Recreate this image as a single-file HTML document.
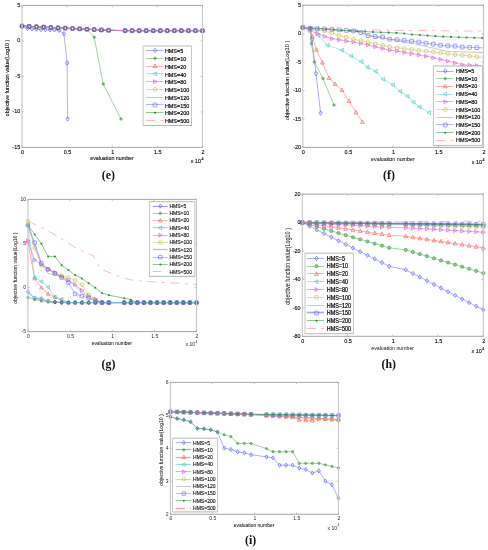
<!DOCTYPE html>
<html><head><meta charset="utf-8"><style>html,body{margin:0;padding:0;background:#fff;width:488px;height:550px;overflow:hidden}svg{display:block}</style></head>
<body>
<svg width="488" height="550" viewBox="0 0 488 550" font-family="Liberation Sans, Arial, sans-serif">
<rect width="488" height="550" fill="#fff"/>
<clipPath id="ce"><rect x="19" y="2.45" width="186.5" height="147.95"/></clipPath>
<g clip-path="url(#ce)">
<path d="M22 26.74L27.41 28.52L31.93 28.87L36.44 29.23L40.95 29.44L45.47 29.58L49.98 29.79L54.49 29.94L59 30.29L63.97 33.84L67.12 62.94L67.58 119.01" fill="none" stroke="#7878ff" stroke-width="0.6"/>
<path d="M22 24.56L23.61 26.74L22 28.93L20.39 26.74Z" fill="none" stroke="#4848ff" stroke-width="0.6"/>
<path d="M27.41 26.33L29.03 28.52L27.41 30.7L25.8 28.52Z" fill="none" stroke="#4848ff" stroke-width="0.6"/>
<path d="M31.93 26.69L33.54 28.87L31.93 31.06L30.31 28.87Z" fill="none" stroke="#4848ff" stroke-width="0.6"/>
<path d="M36.44 27.04L38.05 29.23L36.44 31.41L34.82 29.23Z" fill="none" stroke="#4848ff" stroke-width="0.6"/>
<path d="M40.95 27.25L42.57 29.44L40.95 31.62L39.34 29.44Z" fill="none" stroke="#4848ff" stroke-width="0.6"/>
<path d="M45.47 27.4L47.08 29.58L45.47 31.77L43.85 29.58Z" fill="none" stroke="#4848ff" stroke-width="0.6"/>
<path d="M49.98 27.61L51.59 29.79L49.98 31.98L48.36 29.79Z" fill="none" stroke="#4848ff" stroke-width="0.6"/>
<path d="M54.49 27.75L56.11 29.94L54.49 32.12L52.88 29.94Z" fill="none" stroke="#4848ff" stroke-width="0.6"/>
<path d="M59 28.11L60.62 30.29L59 32.48L57.39 30.29Z" fill="none" stroke="#4848ff" stroke-width="0.6"/>
<path d="M63.97 31.65L65.58 33.84L63.97 36.02L62.35 33.84Z" fill="none" stroke="#4848ff" stroke-width="0.6"/>
<path d="M67.12 60.75L68.74 62.94L67.12 65.12L65.51 62.94Z" fill="none" stroke="#4848ff" stroke-width="0.6"/>
<path d="M67.58 116.83L69.19 119.01L67.58 121.2L65.96 119.01Z" fill="none" stroke="#4848ff" stroke-width="0.6"/>
<path d="M22 26.03L29.22 26.39L36.44 26.74L43.66 27.1L50.88 27.45L58.1 27.81L65.32 28.16L72.54 28.52L79.76 28.87L86.98 29.23L94.2 37.25L103.23 83.95L121 119.01" fill="none" stroke="#6ab46a" stroke-width="0.6"/>
<circle cx="22" cy="26.03" r="1.23" fill="#3c963c" fill-opacity="0.5" stroke="#3c963c" stroke-width="0.55"/>
<circle cx="29.22" cy="26.39" r="1.23" fill="#3c963c" fill-opacity="0.5" stroke="#3c963c" stroke-width="0.55"/>
<circle cx="36.44" cy="26.74" r="1.23" fill="#3c963c" fill-opacity="0.5" stroke="#3c963c" stroke-width="0.55"/>
<circle cx="43.66" cy="27.1" r="1.23" fill="#3c963c" fill-opacity="0.5" stroke="#3c963c" stroke-width="0.55"/>
<circle cx="50.88" cy="27.45" r="1.23" fill="#3c963c" fill-opacity="0.5" stroke="#3c963c" stroke-width="0.55"/>
<circle cx="58.1" cy="27.81" r="1.23" fill="#3c963c" fill-opacity="0.5" stroke="#3c963c" stroke-width="0.55"/>
<circle cx="65.32" cy="28.16" r="1.23" fill="#3c963c" fill-opacity="0.5" stroke="#3c963c" stroke-width="0.55"/>
<circle cx="72.54" cy="28.52" r="1.23" fill="#3c963c" fill-opacity="0.5" stroke="#3c963c" stroke-width="0.55"/>
<circle cx="79.76" cy="28.87" r="1.23" fill="#3c963c" fill-opacity="0.5" stroke="#3c963c" stroke-width="0.55"/>
<circle cx="86.98" cy="29.23" r="1.23" fill="#3c963c" fill-opacity="0.5" stroke="#3c963c" stroke-width="0.55"/>
<circle cx="94.2" cy="37.25" r="1.23" fill="#3c963c" fill-opacity="0.5" stroke="#3c963c" stroke-width="0.55"/>
<circle cx="103.23" cy="83.95" r="1.23" fill="#3c963c" fill-opacity="0.5" stroke="#3c963c" stroke-width="0.55"/>
<circle cx="121" cy="119.01" r="1.23" fill="#3c963c" fill-opacity="0.5" stroke="#3c963c" stroke-width="0.55"/>
<path d="M22 26.03L29.22 26.39L36.44 26.74L43.66 27.1L50.88 27.45L58.1 27.81L65.32 28.16L72.54 28.52L79.76 28.87L86.98 29.23L94.2 29.58L101.42 29.94L108.64 30.29L125.16 30.65L132.19 30.65L139.22 30.65L146.25 30.65L153.28 30.65L160.31 30.65L167.34 30.65L174.37 30.65L181.41 30.65L188.44 30.65L195.47 30.65L202.5 30.65" fill="none" stroke="#ff7a7a" stroke-width="0.6"/>
<path d="M22 23.94L23.9 27.46L20.1 27.46Z" fill="none" stroke="#ff4a4a" stroke-width="0.6"/>
<path d="M29.22 24.3L31.12 27.81L27.32 27.81Z" fill="none" stroke="#ff4a4a" stroke-width="0.6"/>
<path d="M36.44 24.65L38.34 28.17L34.54 28.17Z" fill="none" stroke="#ff4a4a" stroke-width="0.6"/>
<path d="M43.66 25.01L45.56 28.52L41.76 28.52Z" fill="none" stroke="#ff4a4a" stroke-width="0.6"/>
<path d="M50.88 25.36L52.78 28.88L48.98 28.88Z" fill="none" stroke="#ff4a4a" stroke-width="0.6"/>
<path d="M58.1 25.72L60 29.23L56.2 29.23Z" fill="none" stroke="#ff4a4a" stroke-width="0.6"/>
<path d="M65.32 26.07L67.22 29.59L63.42 29.59Z" fill="none" stroke="#ff4a4a" stroke-width="0.6"/>
<path d="M72.54 26.43L74.44 29.94L70.64 29.94Z" fill="none" stroke="#ff4a4a" stroke-width="0.6"/>
<path d="M79.76 26.78L81.66 30.3L77.86 30.3Z" fill="none" stroke="#ff4a4a" stroke-width="0.6"/>
<path d="M86.98 27.14L88.88 30.65L85.08 30.65Z" fill="none" stroke="#ff4a4a" stroke-width="0.6"/>
<path d="M94.2 27.49L96.1 31.01L92.3 31.01Z" fill="none" stroke="#ff4a4a" stroke-width="0.6"/>
<path d="M101.42 27.85L103.32 31.36L99.52 31.36Z" fill="none" stroke="#ff4a4a" stroke-width="0.6"/>
<path d="M108.64 28.2L110.54 31.72L106.74 31.72Z" fill="none" stroke="#ff4a4a" stroke-width="0.6"/>
<path d="M125.16 28.56L127.06 32.07L123.26 32.07Z" fill="none" stroke="#ff4a4a" stroke-width="0.6"/>
<path d="M132.19 28.56L134.09 32.07L130.29 32.07Z" fill="none" stroke="#ff4a4a" stroke-width="0.6"/>
<path d="M139.22 28.56L141.12 32.07L137.32 32.07Z" fill="none" stroke="#ff4a4a" stroke-width="0.6"/>
<path d="M146.25 28.56L148.15 32.07L144.35 32.07Z" fill="none" stroke="#ff4a4a" stroke-width="0.6"/>
<path d="M153.28 28.56L155.18 32.07L151.38 32.07Z" fill="none" stroke="#ff4a4a" stroke-width="0.6"/>
<path d="M160.31 28.56L162.21 32.07L158.41 32.07Z" fill="none" stroke="#ff4a4a" stroke-width="0.6"/>
<path d="M167.34 28.56L169.24 32.07L165.44 32.07Z" fill="none" stroke="#ff4a4a" stroke-width="0.6"/>
<path d="M174.37 28.56L176.27 32.07L172.47 32.07Z" fill="none" stroke="#ff4a4a" stroke-width="0.6"/>
<path d="M181.41 28.56L183.31 32.07L179.51 32.07Z" fill="none" stroke="#ff4a4a" stroke-width="0.6"/>
<path d="M188.44 28.56L190.34 32.07L186.54 32.07Z" fill="none" stroke="#ff4a4a" stroke-width="0.6"/>
<path d="M195.47 28.56L197.37 32.07L193.57 32.07Z" fill="none" stroke="#ff4a4a" stroke-width="0.6"/>
<path d="M202.5 28.56L204.4 32.07L200.6 32.07Z" fill="none" stroke="#ff4a4a" stroke-width="0.6"/>
<path d="M22 26.03L29.22 26.39L36.44 26.74L43.66 27.1L50.88 27.45L58.1 27.81L65.32 28.16L72.54 28.52L79.76 28.87L86.98 29.23L94.2 29.58L101.42 29.94L108.64 30.29L125.16 30.65L132.19 30.65L139.22 30.65L146.25 30.65L153.28 30.65L160.31 30.65L167.34 30.65L174.37 30.65L181.41 30.65L188.44 30.65L195.47 30.65L202.5 30.65" fill="none" stroke="#6ad8d0" stroke-width="0.6"/>
<path d="M19.91 26.03L23.43 24.13L23.43 27.93Z" fill="none" stroke="#36c4c0" stroke-width="0.6"/>
<path d="M27.13 26.39L30.64 24.49L30.64 28.29Z" fill="none" stroke="#36c4c0" stroke-width="0.6"/>
<path d="M34.35 26.74L37.86 24.84L37.86 28.64Z" fill="none" stroke="#36c4c0" stroke-width="0.6"/>
<path d="M41.57 27.1L45.08 25.2L45.08 29Z" fill="none" stroke="#36c4c0" stroke-width="0.6"/>
<path d="M48.79 27.45L52.3 25.55L52.3 29.35Z" fill="none" stroke="#36c4c0" stroke-width="0.6"/>
<path d="M56.01 27.81L59.52 25.91L59.52 29.71Z" fill="none" stroke="#36c4c0" stroke-width="0.6"/>
<path d="M63.23 28.16L66.74 26.26L66.74 30.06Z" fill="none" stroke="#36c4c0" stroke-width="0.6"/>
<path d="M70.45 28.52L73.97 26.62L73.97 30.42Z" fill="none" stroke="#36c4c0" stroke-width="0.6"/>
<path d="M77.67 28.87L81.18 26.97L81.18 30.77Z" fill="none" stroke="#36c4c0" stroke-width="0.6"/>
<path d="M84.89 29.23L88.41 27.33L88.41 31.13Z" fill="none" stroke="#36c4c0" stroke-width="0.6"/>
<path d="M92.11 29.58L95.62 27.68L95.62 31.48Z" fill="none" stroke="#36c4c0" stroke-width="0.6"/>
<path d="M99.33 29.94L102.84 28.04L102.84 31.84Z" fill="none" stroke="#36c4c0" stroke-width="0.6"/>
<path d="M106.55 30.29L110.06 28.39L110.06 32.19Z" fill="none" stroke="#36c4c0" stroke-width="0.6"/>
<path d="M123.07 30.65L126.58 28.75L126.58 32.55Z" fill="none" stroke="#36c4c0" stroke-width="0.6"/>
<path d="M130.1 30.65L133.61 28.75L133.61 32.55Z" fill="none" stroke="#36c4c0" stroke-width="0.6"/>
<path d="M137.13 30.65L140.64 28.75L140.64 32.55Z" fill="none" stroke="#36c4c0" stroke-width="0.6"/>
<path d="M144.16 30.65L147.67 28.75L147.67 32.55Z" fill="none" stroke="#36c4c0" stroke-width="0.6"/>
<path d="M151.19 30.65L154.71 28.75L154.71 32.55Z" fill="none" stroke="#36c4c0" stroke-width="0.6"/>
<path d="M158.22 30.65L161.74 28.75L161.74 32.55Z" fill="none" stroke="#36c4c0" stroke-width="0.6"/>
<path d="M165.25 30.65L168.77 28.75L168.77 32.55Z" fill="none" stroke="#36c4c0" stroke-width="0.6"/>
<path d="M172.28 30.65L175.8 28.75L175.8 32.55Z" fill="none" stroke="#36c4c0" stroke-width="0.6"/>
<path d="M179.32 30.65L182.83 28.75L182.83 32.55Z" fill="none" stroke="#36c4c0" stroke-width="0.6"/>
<path d="M186.35 30.65L189.86 28.75L189.86 32.55Z" fill="none" stroke="#36c4c0" stroke-width="0.6"/>
<path d="M193.38 30.65L196.89 28.75L196.89 32.55Z" fill="none" stroke="#36c4c0" stroke-width="0.6"/>
<path d="M200.41 30.65L203.93 28.75L203.93 32.55Z" fill="none" stroke="#36c4c0" stroke-width="0.6"/>
<path d="M22 26.03L29.22 26.39L36.44 26.74L43.66 27.1L50.88 27.45L58.1 27.81L65.32 28.16L72.54 28.52L79.76 28.87L86.98 29.23L94.2 29.58L101.42 29.94L108.64 30.29L125.16 30.65L132.19 30.65L139.22 30.65L146.25 30.65L153.28 30.65L160.31 30.65L167.34 30.65L174.37 30.65L181.41 30.65L188.44 30.65L195.47 30.65L202.5 30.65" fill="none" stroke="#dc6edc" stroke-width="0.6"/>
<path d="M24.09 26.03L20.57 24.13L20.57 27.93Z" fill="none" stroke="#d548d5" stroke-width="0.6"/>
<path d="M31.31 26.39L27.79 24.49L27.79 28.29Z" fill="none" stroke="#d548d5" stroke-width="0.6"/>
<path d="M38.53 26.74L35.02 24.84L35.02 28.64Z" fill="none" stroke="#d548d5" stroke-width="0.6"/>
<path d="M45.75 27.1L42.23 25.2L42.23 29Z" fill="none" stroke="#d548d5" stroke-width="0.6"/>
<path d="M52.97 27.45L49.45 25.55L49.45 29.35Z" fill="none" stroke="#d548d5" stroke-width="0.6"/>
<path d="M60.19 27.81L56.68 25.91L56.68 29.71Z" fill="none" stroke="#d548d5" stroke-width="0.6"/>
<path d="M67.41 28.16L63.89 26.26L63.89 30.06Z" fill="none" stroke="#d548d5" stroke-width="0.6"/>
<path d="M74.63 28.52L71.12 26.62L71.12 30.42Z" fill="none" stroke="#d548d5" stroke-width="0.6"/>
<path d="M81.85 28.87L78.33 26.97L78.33 30.77Z" fill="none" stroke="#d548d5" stroke-width="0.6"/>
<path d="M89.07 29.23L85.56 27.33L85.56 31.13Z" fill="none" stroke="#d548d5" stroke-width="0.6"/>
<path d="M96.29 29.58L92.78 27.68L92.78 31.48Z" fill="none" stroke="#d548d5" stroke-width="0.6"/>
<path d="M103.51 29.94L100 28.04L100 31.84Z" fill="none" stroke="#d548d5" stroke-width="0.6"/>
<path d="M110.73 30.29L107.22 28.39L107.22 32.19Z" fill="none" stroke="#d548d5" stroke-width="0.6"/>
<path d="M127.25 30.65L123.73 28.75L123.73 32.55Z" fill="none" stroke="#d548d5" stroke-width="0.6"/>
<path d="M134.28 30.65L130.76 28.75L130.76 32.55Z" fill="none" stroke="#d548d5" stroke-width="0.6"/>
<path d="M141.31 30.65L137.79 28.75L137.79 32.55Z" fill="none" stroke="#d548d5" stroke-width="0.6"/>
<path d="M148.34 30.65L144.82 28.75L144.82 32.55Z" fill="none" stroke="#d548d5" stroke-width="0.6"/>
<path d="M155.37 30.65L151.86 28.75L151.86 32.55Z" fill="none" stroke="#d548d5" stroke-width="0.6"/>
<path d="M162.4 30.65L158.89 28.75L158.89 32.55Z" fill="none" stroke="#d548d5" stroke-width="0.6"/>
<path d="M169.43 30.65L165.92 28.75L165.92 32.55Z" fill="none" stroke="#d548d5" stroke-width="0.6"/>
<path d="M176.46 30.65L172.95 28.75L172.95 32.55Z" fill="none" stroke="#d548d5" stroke-width="0.6"/>
<path d="M183.5 30.65L179.98 28.75L179.98 32.55Z" fill="none" stroke="#d548d5" stroke-width="0.6"/>
<path d="M190.53 30.65L187.01 28.75L187.01 32.55Z" fill="none" stroke="#d548d5" stroke-width="0.6"/>
<path d="M197.56 30.65L194.04 28.75L194.04 32.55Z" fill="none" stroke="#d548d5" stroke-width="0.6"/>
<path d="M204.59 30.65L201.07 28.75L201.07 32.55Z" fill="none" stroke="#d548d5" stroke-width="0.6"/>
<path d="M22 26.03L29.22 26.39L36.44 26.74L43.66 27.1L50.88 27.45L58.1 27.81L65.32 28.16L72.54 28.52L79.76 28.87L86.98 29.23L94.2 29.58L101.42 29.94L108.64 30.29L125.16 30.65L132.19 30.65L139.22 30.65L146.25 30.65L153.28 30.65L160.31 30.65L167.34 30.65L174.37 30.65L181.41 30.65L188.44 30.65L195.47 30.65L202.5 30.65" fill="none" stroke="#cdcd5a" stroke-width="0.6"/>
<circle cx="22" cy="26.03" r="1.9" fill="none" stroke="#bcbc3a" stroke-width="0.6"/>
<circle cx="29.22" cy="26.39" r="1.9" fill="none" stroke="#bcbc3a" stroke-width="0.6"/>
<circle cx="36.44" cy="26.74" r="1.9" fill="none" stroke="#bcbc3a" stroke-width="0.6"/>
<circle cx="43.66" cy="27.1" r="1.9" fill="none" stroke="#bcbc3a" stroke-width="0.6"/>
<circle cx="50.88" cy="27.45" r="1.9" fill="none" stroke="#bcbc3a" stroke-width="0.6"/>
<circle cx="58.1" cy="27.81" r="1.9" fill="none" stroke="#bcbc3a" stroke-width="0.6"/>
<circle cx="65.32" cy="28.16" r="1.9" fill="none" stroke="#bcbc3a" stroke-width="0.6"/>
<circle cx="72.54" cy="28.52" r="1.9" fill="none" stroke="#bcbc3a" stroke-width="0.6"/>
<circle cx="79.76" cy="28.87" r="1.9" fill="none" stroke="#bcbc3a" stroke-width="0.6"/>
<circle cx="86.98" cy="29.23" r="1.9" fill="none" stroke="#bcbc3a" stroke-width="0.6"/>
<circle cx="94.2" cy="29.58" r="1.9" fill="none" stroke="#bcbc3a" stroke-width="0.6"/>
<circle cx="101.42" cy="29.94" r="1.9" fill="none" stroke="#bcbc3a" stroke-width="0.6"/>
<circle cx="108.64" cy="30.29" r="1.9" fill="none" stroke="#bcbc3a" stroke-width="0.6"/>
<circle cx="125.16" cy="30.65" r="1.9" fill="none" stroke="#bcbc3a" stroke-width="0.6"/>
<circle cx="132.19" cy="30.65" r="1.9" fill="none" stroke="#bcbc3a" stroke-width="0.6"/>
<circle cx="139.22" cy="30.65" r="1.9" fill="none" stroke="#bcbc3a" stroke-width="0.6"/>
<circle cx="146.25" cy="30.65" r="1.9" fill="none" stroke="#bcbc3a" stroke-width="0.6"/>
<circle cx="153.28" cy="30.65" r="1.9" fill="none" stroke="#bcbc3a" stroke-width="0.6"/>
<circle cx="160.31" cy="30.65" r="1.9" fill="none" stroke="#bcbc3a" stroke-width="0.6"/>
<circle cx="167.34" cy="30.65" r="1.9" fill="none" stroke="#bcbc3a" stroke-width="0.6"/>
<circle cx="174.37" cy="30.65" r="1.9" fill="none" stroke="#bcbc3a" stroke-width="0.6"/>
<circle cx="181.41" cy="30.65" r="1.9" fill="none" stroke="#bcbc3a" stroke-width="0.6"/>
<circle cx="188.44" cy="30.65" r="1.9" fill="none" stroke="#bcbc3a" stroke-width="0.6"/>
<circle cx="195.47" cy="30.65" r="1.9" fill="none" stroke="#bcbc3a" stroke-width="0.6"/>
<circle cx="202.5" cy="30.65" r="1.9" fill="none" stroke="#bcbc3a" stroke-width="0.6"/>
<path d="M22 26.03L29.22 26.39L36.44 26.74L43.66 27.1L50.88 27.45L58.1 27.81L65.32 28.16L72.54 28.52L79.76 28.87L86.98 29.23L94.2 29.58L101.42 29.94L108.64 30.29L125.16 30.65L132.19 30.65L139.22 30.65L146.25 30.65L153.28 30.65L160.31 30.65L167.34 30.65L174.37 30.65L181.41 30.65L188.44 30.65L195.47 30.65L202.5 30.65" fill="none" stroke="#a8a8a8" stroke-width="0.6"/>
<path d="M22 26.03L29.22 26.39L36.44 26.74L43.66 27.1L50.88 27.45L58.1 27.81L65.32 28.16L72.54 28.52L79.76 28.87L86.98 29.23L94.2 29.58L101.42 29.94L108.64 30.29L125.16 30.65L132.19 30.65L139.22 30.65L146.25 30.65L153.28 30.65L160.31 30.65L167.34 30.65L174.37 30.65L181.41 30.65L188.44 30.65L195.47 30.65L202.5 30.65" fill="none" stroke="#8484ff" stroke-width="0.6"/>
<rect x="20.1" y="24.13" width="3.8" height="3.8" rx="0.6" fill="none" stroke="#6060ff" stroke-width="0.6"/>
<rect x="27.32" y="24.49" width="3.8" height="3.8" rx="0.6" fill="none" stroke="#6060ff" stroke-width="0.6"/>
<rect x="34.54" y="24.84" width="3.8" height="3.8" rx="0.6" fill="none" stroke="#6060ff" stroke-width="0.6"/>
<rect x="41.76" y="25.2" width="3.8" height="3.8" rx="0.6" fill="none" stroke="#6060ff" stroke-width="0.6"/>
<rect x="48.98" y="25.55" width="3.8" height="3.8" rx="0.6" fill="none" stroke="#6060ff" stroke-width="0.6"/>
<rect x="56.2" y="25.91" width="3.8" height="3.8" rx="0.6" fill="none" stroke="#6060ff" stroke-width="0.6"/>
<rect x="63.42" y="26.26" width="3.8" height="3.8" rx="0.6" fill="none" stroke="#6060ff" stroke-width="0.6"/>
<rect x="70.64" y="26.62" width="3.8" height="3.8" rx="0.6" fill="none" stroke="#6060ff" stroke-width="0.6"/>
<rect x="77.86" y="26.97" width="3.8" height="3.8" rx="0.6" fill="none" stroke="#6060ff" stroke-width="0.6"/>
<rect x="85.08" y="27.33" width="3.8" height="3.8" rx="0.6" fill="none" stroke="#6060ff" stroke-width="0.6"/>
<rect x="92.3" y="27.68" width="3.8" height="3.8" rx="0.6" fill="none" stroke="#6060ff" stroke-width="0.6"/>
<rect x="99.52" y="28.04" width="3.8" height="3.8" rx="0.6" fill="none" stroke="#6060ff" stroke-width="0.6"/>
<rect x="106.74" y="28.39" width="3.8" height="3.8" rx="0.6" fill="none" stroke="#6060ff" stroke-width="0.6"/>
<rect x="123.26" y="28.75" width="3.8" height="3.8" rx="0.6" fill="none" stroke="#6060ff" stroke-width="0.6"/>
<rect x="130.29" y="28.75" width="3.8" height="3.8" rx="0.6" fill="none" stroke="#6060ff" stroke-width="0.6"/>
<rect x="137.32" y="28.75" width="3.8" height="3.8" rx="0.6" fill="none" stroke="#6060ff" stroke-width="0.6"/>
<rect x="144.35" y="28.75" width="3.8" height="3.8" rx="0.6" fill="none" stroke="#6060ff" stroke-width="0.6"/>
<rect x="151.38" y="28.75" width="3.8" height="3.8" rx="0.6" fill="none" stroke="#6060ff" stroke-width="0.6"/>
<rect x="158.41" y="28.75" width="3.8" height="3.8" rx="0.6" fill="none" stroke="#6060ff" stroke-width="0.6"/>
<rect x="165.44" y="28.75" width="3.8" height="3.8" rx="0.6" fill="none" stroke="#6060ff" stroke-width="0.6"/>
<rect x="172.47" y="28.75" width="3.8" height="3.8" rx="0.6" fill="none" stroke="#6060ff" stroke-width="0.6"/>
<rect x="179.51" y="28.75" width="3.8" height="3.8" rx="0.6" fill="none" stroke="#6060ff" stroke-width="0.6"/>
<rect x="186.54" y="28.75" width="3.8" height="3.8" rx="0.6" fill="none" stroke="#6060ff" stroke-width="0.6"/>
<rect x="193.57" y="28.75" width="3.8" height="3.8" rx="0.6" fill="none" stroke="#6060ff" stroke-width="0.6"/>
<rect x="200.6" y="28.75" width="3.8" height="3.8" rx="0.6" fill="none" stroke="#6060ff" stroke-width="0.6"/>
<path d="M22 26.03L29.22 26.39L36.44 26.74L43.66 27.1L50.88 27.45L58.1 27.81L65.32 28.16L72.54 28.52L79.76 28.87L86.98 29.23L94.2 29.58L101.42 29.94L108.64 30.29L125.16 30.65L132.19 30.65L139.22 30.65L146.25 30.65L153.28 30.65L160.31 30.65L167.34 30.65L174.37 30.65L181.41 30.65L188.44 30.65L195.47 30.65L202.5 30.65" fill="none" stroke="#4aa04a" stroke-width="0.6"/>
<circle cx="22" cy="26.03" r="1.05" fill="#2a8a2a"/>
<circle cx="29.22" cy="26.39" r="1.05" fill="#2a8a2a"/>
<circle cx="36.44" cy="26.74" r="1.05" fill="#2a8a2a"/>
<circle cx="43.66" cy="27.1" r="1.05" fill="#2a8a2a"/>
<circle cx="50.88" cy="27.45" r="1.05" fill="#2a8a2a"/>
<circle cx="58.1" cy="27.81" r="1.05" fill="#2a8a2a"/>
<circle cx="65.32" cy="28.16" r="1.05" fill="#2a8a2a"/>
<circle cx="72.54" cy="28.52" r="1.05" fill="#2a8a2a"/>
<circle cx="79.76" cy="28.87" r="1.05" fill="#2a8a2a"/>
<circle cx="86.98" cy="29.23" r="1.05" fill="#2a8a2a"/>
<circle cx="94.2" cy="29.58" r="1.05" fill="#2a8a2a"/>
<circle cx="101.42" cy="29.94" r="1.05" fill="#2a8a2a"/>
<circle cx="108.64" cy="30.29" r="1.05" fill="#2a8a2a"/>
<circle cx="125.16" cy="30.65" r="1.05" fill="#2a8a2a"/>
<circle cx="132.19" cy="30.65" r="1.05" fill="#2a8a2a"/>
<circle cx="139.22" cy="30.65" r="1.05" fill="#2a8a2a"/>
<circle cx="146.25" cy="30.65" r="1.05" fill="#2a8a2a"/>
<circle cx="153.28" cy="30.65" r="1.05" fill="#2a8a2a"/>
<circle cx="160.31" cy="30.65" r="1.05" fill="#2a8a2a"/>
<circle cx="167.34" cy="30.65" r="1.05" fill="#2a8a2a"/>
<circle cx="174.37" cy="30.65" r="1.05" fill="#2a8a2a"/>
<circle cx="181.41" cy="30.65" r="1.05" fill="#2a8a2a"/>
<circle cx="188.44" cy="30.65" r="1.05" fill="#2a8a2a"/>
<circle cx="195.47" cy="30.65" r="1.05" fill="#2a8a2a"/>
<circle cx="202.5" cy="30.65" r="1.05" fill="#2a8a2a"/>
<path d="M22 26.03L29.22 26.39L36.44 26.74L43.66 27.1L50.88 27.45L58.1 27.81L65.32 28.16L72.54 28.52L79.76 28.87L86.98 29.23L94.2 29.58L101.42 29.94L108.64 30.29L125.16 30.65L132.19 30.65L139.22 30.65L146.25 30.65L153.28 30.65L160.31 30.65L167.34 30.65L174.37 30.65L181.41 30.65L188.44 30.65L195.47 30.65L202.5 30.65" fill="none" stroke="#ff8a8a" stroke-width="0.6" stroke-dasharray="9,5.5,3,5.5"/>
<path d="M22 26.03L29.22 26.39L36.44 26.74L43.66 27.1L50.88 27.45L58.1 27.81L65.32 28.16L72.54 28.52L79.76 28.87L86.98 29.23L94.2 29.58L101.42 29.94L108.64 30.29L125.16 30.65L132.19 30.65L139.22 30.65L146.25 30.65L153.28 30.65L160.31 30.65L167.34 30.65L174.37 30.65L181.41 30.65L188.44 30.65L195.47 30.65L202.5 30.65" fill="none" stroke="#c47ad8" stroke-width="0.6"/>
<circle cx="22" cy="26.03" r="1.45" fill="#f3eef6" stroke="#5e3e8e" stroke-width="1"/>
<circle cx="29.22" cy="26.39" r="1.45" fill="#f3eef6" stroke="#5e3e8e" stroke-width="1"/>
<circle cx="36.44" cy="26.74" r="1.45" fill="#f3eef6" stroke="#5e3e8e" stroke-width="1"/>
<circle cx="43.66" cy="27.1" r="1.45" fill="#f3eef6" stroke="#5e3e8e" stroke-width="1"/>
<circle cx="50.88" cy="27.45" r="1.45" fill="#f3eef6" stroke="#5e3e8e" stroke-width="1"/>
<circle cx="58.1" cy="27.81" r="1.45" fill="#f3eef6" stroke="#5e3e8e" stroke-width="1"/>
<circle cx="65.32" cy="28.16" r="1.45" fill="#f3eef6" stroke="#5e3e8e" stroke-width="1"/>
<circle cx="72.54" cy="28.52" r="1.45" fill="#f3eef6" stroke="#5e3e8e" stroke-width="1"/>
<circle cx="79.76" cy="28.87" r="1.45" fill="#f3eef6" stroke="#5e3e8e" stroke-width="1"/>
<circle cx="86.98" cy="29.23" r="1.45" fill="#f3eef6" stroke="#5e3e8e" stroke-width="1"/>
<circle cx="94.2" cy="29.58" r="1.45" fill="#f3eef6" stroke="#5e3e8e" stroke-width="1"/>
<circle cx="101.42" cy="29.94" r="1.45" fill="#f3eef6" stroke="#5e3e8e" stroke-width="1"/>
<circle cx="108.64" cy="30.29" r="1.45" fill="#f3eef6" stroke="#5e3e8e" stroke-width="1"/>
<circle cx="125.16" cy="30.65" r="1.45" fill="#f3eef6" stroke="#5e3e8e" stroke-width="1"/>
<circle cx="132.19" cy="30.65" r="1.45" fill="#f3eef6" stroke="#5e3e8e" stroke-width="1"/>
<circle cx="139.22" cy="30.65" r="1.45" fill="#f3eef6" stroke="#5e3e8e" stroke-width="1"/>
<circle cx="146.25" cy="30.65" r="1.45" fill="#f3eef6" stroke="#5e3e8e" stroke-width="1"/>
<circle cx="153.28" cy="30.65" r="1.45" fill="#f3eef6" stroke="#5e3e8e" stroke-width="1"/>
<circle cx="160.31" cy="30.65" r="1.45" fill="#f3eef6" stroke="#5e3e8e" stroke-width="1"/>
<circle cx="167.34" cy="30.65" r="1.45" fill="#f3eef6" stroke="#5e3e8e" stroke-width="1"/>
<circle cx="174.37" cy="30.65" r="1.45" fill="#f3eef6" stroke="#5e3e8e" stroke-width="1"/>
<circle cx="181.41" cy="30.65" r="1.45" fill="#f3eef6" stroke="#5e3e8e" stroke-width="1"/>
<circle cx="188.44" cy="30.65" r="1.45" fill="#f3eef6" stroke="#5e3e8e" stroke-width="1"/>
<circle cx="195.47" cy="30.65" r="1.45" fill="#f3eef6" stroke="#5e3e8e" stroke-width="1"/>
<circle cx="202.5" cy="30.65" r="1.45" fill="#f3eef6" stroke="#5e3e8e" stroke-width="1"/>
</g>
<path d="M21.6 5.45H202.9M21.6 147.4H202.9" stroke="#9c9c9c" stroke-width="0.9" fill="none"/>
<path d="M22 5.9V146.95M202.5 5.9V146.95" stroke="#c6c6c6" stroke-width="1.1" fill="none"/>
<path d="M22 147.4v-1.8M22 5.45v1.8M67.12 147.4v-1.8M67.12 5.45v1.8M112.25 147.4v-1.8M112.25 5.45v1.8M157.38 147.4v-1.8M157.38 5.45v1.8M202.5 147.4v-1.8M202.5 5.45v1.8M22 147.4h1.8M202.5 147.4h-1.8M22 111.91h1.8M202.5 111.91h-1.8M22 76.42h1.8M202.5 76.42h-1.8M22 40.94h1.8M202.5 40.94h-1.8M22 5.45h1.8M202.5 5.45h-1.8" stroke="#ababab" stroke-width="0.7" fill="none"/>
<g font-size="5.45" fill="#000" stroke="#000" stroke-width="0.1">
<text transform="matrix(1 0 0 1.15 22.4 153.5)" text-anchor="middle">0</text>
<text transform="matrix(1 0 0 1.15 67.53 153.5)" text-anchor="middle">0.5</text>
<text transform="matrix(1 0 0 1.15 112.65 153.5)" text-anchor="middle">1</text>
<text transform="matrix(1 0 0 1.15 157.78 153.5)" text-anchor="middle">1.5</text>
<text transform="matrix(1 0 0 1.15 202.9 153.5)" text-anchor="middle">2</text>
<text transform="matrix(1 0 0 1.15 20.2 148.56)" text-anchor="end">-15</text>
<text transform="matrix(1 0 0 1.15 20.2 113.07)" text-anchor="end">-10</text>
<text transform="matrix(1 0 0 1.15 20.2 77.58)" text-anchor="end">-5</text>
<text transform="matrix(1 0 0 1.15 20.2 42.09)" text-anchor="end">0</text>
<text transform="matrix(1 0 0 1.15 20.2 6.61)" text-anchor="end">5</text>
<text x="201" y="163.4" text-anchor="end">x 10</text>
<text x="201.5" y="160.1" font-size="3.71">4</text>
<text x="112" y="160.36" text-anchor="middle" fill="#111" stroke="#111" stroke-width="0.12" font-size="5.3">evaluation number</text>
<text transform="translate(8.76 78) scale(1 1) rotate(-90)" text-anchor="middle" fill="#111" stroke="#111" stroke-width="0.12" font-size="5.45">objective function value(Log10 )</text>
</g>
<rect x="143.1" y="46" width="48.4" height="79.5" fill="#fff"/>
<path d="M142.7 46H191.9M142.7 125.5H191.9" stroke="#a4a4a4" stroke-width="0.8" fill="none"/>
<path d="M143.1 46.4V125.1M191.5 46.4V125.1" stroke="#c4c4c4" stroke-width="1" fill="none"/>
<path d="M146 50.5H163.6" stroke="#7878ff" stroke-opacity="0.75" stroke-width="0.8"/>
<path d="M155 48.31L156.62 50.5L155 52.69L153.38 50.5Z" fill="none" stroke="#4848ff" stroke-width="0.6"/>
<text x="164.9" y="53.16" font-size="5.45" fill="#000" stroke="#000" stroke-width="0.18">HMS=5</text>
<path d="M146 58.5H163.6" stroke="#6ab46a" stroke-opacity="0.75" stroke-width="0.8"/>
<circle cx="155" cy="58.28" r="1.23" fill="#3c963c" fill-opacity="0.5" stroke="#3c963c" stroke-width="0.55"/>
<text x="164.9" y="60.94" font-size="5.45" fill="#000" stroke="#000" stroke-width="0.18">HMS=10</text>
<path d="M146 66.5H163.6" stroke="#ff7a7a" stroke-opacity="0.75" stroke-width="0.8"/>
<path d="M155 63.97L156.9 67.48L153.1 67.48Z" fill="none" stroke="#ff4a4a" stroke-width="0.6"/>
<text x="164.9" y="68.72" font-size="5.45" fill="#000" stroke="#000" stroke-width="0.18">HMS=20</text>
<path d="M146 73.5H163.6" stroke="#6ad8d0" stroke-opacity="0.75" stroke-width="0.8"/>
<path d="M152.91 73.84L156.43 71.94L156.43 75.74Z" fill="none" stroke="#36c4c0" stroke-width="0.6"/>
<text x="164.9" y="76.5" font-size="5.45" fill="#000" stroke="#000" stroke-width="0.18">HMS=40</text>
<path d="M146 81.5H163.6" stroke="#dc6edc" stroke-opacity="0.75" stroke-width="0.8"/>
<path d="M157.09 81.62L153.57 79.72L153.57 83.52Z" fill="none" stroke="#d548d5" stroke-width="0.6"/>
<text x="164.9" y="84.28" font-size="5.45" fill="#000" stroke="#000" stroke-width="0.18">HMS=80</text>
<path d="M146 89.5H163.6" stroke="#cdcd5a" stroke-opacity="0.75" stroke-width="0.8"/>
<circle cx="155" cy="89.4" r="1.9" fill="none" stroke="#bcbc3a" stroke-width="0.6"/>
<text x="164.9" y="92.06" font-size="5.45" fill="#000" stroke="#000" stroke-width="0.18">HMS=100</text>
<path d="M146 97.5H163.6" stroke="#a8a8a8" stroke-opacity="0.75" stroke-width="0.8"/>

<text x="164.9" y="99.84" font-size="5.45" fill="#000" stroke="#000" stroke-width="0.18">HMS=120</text>
<path d="M146 104.5H163.6" stroke="#8484ff" stroke-opacity="0.75" stroke-width="0.8"/>
<rect x="153.1" y="103.06" width="3.8" height="3.8" rx="0.6" fill="none" stroke="#6060ff" stroke-width="0.6"/>
<text x="164.9" y="107.62" font-size="5.45" fill="#000" stroke="#000" stroke-width="0.18">HMS=150</text>
<path d="M146 112.5H163.6" stroke="#4aa04a" stroke-opacity="0.75" stroke-width="0.8"/>
<circle cx="155" cy="112.74" r="1.05" fill="#2a8a2a"/>
<text x="164.9" y="115.4" font-size="5.45" fill="#000" stroke="#000" stroke-width="0.18">HMS=200</text>
<path d="M146 120.5H163.6" stroke="#ff8a8a" stroke-opacity="0.75" stroke-width="0.8" stroke-dasharray="9,5.5,3,5.5"/>

<text x="164.9" y="123.18" font-size="5.45" fill="#000" stroke="#000" stroke-width="0.18">HMS=500</text>
<text x="108.3" y="178.8" text-anchor="middle" font-family="Liberation Serif, serif" font-weight="bold" font-size="11.8" fill="#111">(e)</text>
<clipPath id="cf"><rect x="299.8" y="2.2" width="186.7" height="148.2"/></clipPath>
<g clip-path="url(#cf)">
<path d="M302.8 27.4L310.2 28.3L311.9 39.2L316 73.6L320.6 113" fill="none" stroke="#7878ff" stroke-width="0.6"/>
<path d="M302.8 25.21L304.42 27.4L302.8 29.58L301.19 27.4Z" fill="none" stroke="#4848ff" stroke-width="0.6"/>
<path d="M310.2 26.12L311.81 28.3L310.2 30.48L308.58 28.3Z" fill="none" stroke="#4848ff" stroke-width="0.6"/>
<path d="M311.9 37.02L313.51 39.2L311.9 41.39L310.28 39.2Z" fill="none" stroke="#4848ff" stroke-width="0.6"/>
<path d="M316 71.41L317.62 73.6L316 75.78L314.38 73.6Z" fill="none" stroke="#4848ff" stroke-width="0.6"/>
<path d="M320.6 110.81L322.22 113L320.6 115.19L318.99 113Z" fill="none" stroke="#4848ff" stroke-width="0.6"/>
<path d="M302.8 27.4L310.2 28.3L311.4 43.6L314.4 62L323 78.6L334 105" fill="none" stroke="#6ab46a" stroke-width="0.6"/>
<circle cx="302.8" cy="27.4" r="1.23" fill="#3c963c" fill-opacity="0.5" stroke="#3c963c" stroke-width="0.55"/>
<circle cx="310.2" cy="28.3" r="1.23" fill="#3c963c" fill-opacity="0.5" stroke="#3c963c" stroke-width="0.55"/>
<circle cx="311.4" cy="43.6" r="1.23" fill="#3c963c" fill-opacity="0.5" stroke="#3c963c" stroke-width="0.55"/>
<circle cx="314.4" cy="62" r="1.23" fill="#3c963c" fill-opacity="0.5" stroke="#3c963c" stroke-width="0.55"/>
<circle cx="323" cy="78.6" r="1.23" fill="#3c963c" fill-opacity="0.5" stroke="#3c963c" stroke-width="0.55"/>
<circle cx="334" cy="105" r="1.23" fill="#3c963c" fill-opacity="0.5" stroke="#3c963c" stroke-width="0.55"/>
<path d="M302.8 27.4L310.2 28.3L312.3 36.5L316.4 49.8L322.4 62.6L329 78L335 84L342 90L349 101L356 112.4L362.4 122" fill="none" stroke="#ff7a7a" stroke-width="0.6"/>
<path d="M302.8 25.31L304.7 28.82L300.9 28.82Z" fill="none" stroke="#ff4a4a" stroke-width="0.6"/>
<path d="M310.2 26.21L312.1 29.73L308.3 29.73Z" fill="none" stroke="#ff4a4a" stroke-width="0.6"/>
<path d="M312.3 34.41L314.2 37.92L310.4 37.92Z" fill="none" stroke="#ff4a4a" stroke-width="0.6"/>
<path d="M316.4 47.71L318.3 51.22L314.5 51.22Z" fill="none" stroke="#ff4a4a" stroke-width="0.6"/>
<path d="M322.4 60.51L324.3 64.03L320.5 64.03Z" fill="none" stroke="#ff4a4a" stroke-width="0.6"/>
<path d="M329 75.91L330.9 79.42L327.1 79.42Z" fill="none" stroke="#ff4a4a" stroke-width="0.6"/>
<path d="M335 81.91L336.9 85.42L333.1 85.42Z" fill="none" stroke="#ff4a4a" stroke-width="0.6"/>
<path d="M342 87.91L343.9 91.42L340.1 91.42Z" fill="none" stroke="#ff4a4a" stroke-width="0.6"/>
<path d="M349 98.91L350.9 102.42L347.1 102.42Z" fill="none" stroke="#ff4a4a" stroke-width="0.6"/>
<path d="M356 110.31L357.9 113.83L354.1 113.83Z" fill="none" stroke="#ff4a4a" stroke-width="0.6"/>
<path d="M362.4 119.91L364.3 123.42L360.5 123.42Z" fill="none" stroke="#ff4a4a" stroke-width="0.6"/>
<path d="M302.8 27.4L311.3 28.3L318.4 35.5L327.7 45.3L342 50.2L351.2 56L361.5 61.7L367.6 67.3L375.8 71.4L383.3 79.2L393 84.8L400.2 91.3L407.5 96.2L413.5 102.2L419.6 107L429.2 112.6" fill="none" stroke="#6ad8d0" stroke-width="0.6"/>
<path d="M300.71 27.4L304.23 25.5L304.23 29.3Z" fill="none" stroke="#36c4c0" stroke-width="0.6"/>
<path d="M309.21 28.3L312.73 26.4L312.73 30.2Z" fill="none" stroke="#36c4c0" stroke-width="0.6"/>
<path d="M316.31 35.5L319.82 33.6L319.82 37.4Z" fill="none" stroke="#36c4c0" stroke-width="0.6"/>
<path d="M325.61 45.3L329.12 43.4L329.12 47.2Z" fill="none" stroke="#36c4c0" stroke-width="0.6"/>
<path d="M339.91 50.2L343.43 48.3L343.43 52.1Z" fill="none" stroke="#36c4c0" stroke-width="0.6"/>
<path d="M349.11 56L352.62 54.1L352.62 57.9Z" fill="none" stroke="#36c4c0" stroke-width="0.6"/>
<path d="M359.41 61.7L362.93 59.8L362.93 63.6Z" fill="none" stroke="#36c4c0" stroke-width="0.6"/>
<path d="M365.51 67.3L369.03 65.4L369.03 69.2Z" fill="none" stroke="#36c4c0" stroke-width="0.6"/>
<path d="M373.71 71.4L377.23 69.5L377.23 73.3Z" fill="none" stroke="#36c4c0" stroke-width="0.6"/>
<path d="M381.21 79.2L384.73 77.3L384.73 81.1Z" fill="none" stroke="#36c4c0" stroke-width="0.6"/>
<path d="M390.91 84.8L394.43 82.9L394.43 86.7Z" fill="none" stroke="#36c4c0" stroke-width="0.6"/>
<path d="M398.11 91.3L401.62 89.4L401.62 93.2Z" fill="none" stroke="#36c4c0" stroke-width="0.6"/>
<path d="M405.41 96.2L408.93 94.3L408.93 98.1Z" fill="none" stroke="#36c4c0" stroke-width="0.6"/>
<path d="M411.41 102.2L414.93 100.3L414.93 104.1Z" fill="none" stroke="#36c4c0" stroke-width="0.6"/>
<path d="M417.51 107L421.03 105.1L421.03 108.9Z" fill="none" stroke="#36c4c0" stroke-width="0.6"/>
<path d="M427.11 112.6L430.62 110.7L430.62 114.5Z" fill="none" stroke="#36c4c0" stroke-width="0.6"/>
<path d="M302.8 27.4L314.3 32.4L324.6 36.5L331.8 38.6L340 40L347.1 41.2L354.3 42.3L361.5 43.7L368.6 45.1L382 48.4L389.1 50.2L396.3 50.9L405 52.6L426.8 56.3L442.5 59.9L455.8 63L461.9 64.7L483.5 66" fill="none" stroke="#dc6edc" stroke-width="0.6"/>
<path d="M304.89 27.4L301.38 25.5L301.38 29.3Z" fill="none" stroke="#d548d5" stroke-width="0.6"/>
<path d="M312.14 30.55L308.62 28.65L308.62 32.45Z" fill="none" stroke="#d548d5" stroke-width="0.6"/>
<path d="M319.39 33.59L315.88 31.69L315.88 35.49Z" fill="none" stroke="#d548d5" stroke-width="0.6"/>
<path d="M326.64 36.48L323.12 34.58L323.12 38.38Z" fill="none" stroke="#d548d5" stroke-width="0.6"/>
<path d="M333.89 38.6L330.38 36.7L330.38 40.5Z" fill="none" stroke="#d548d5" stroke-width="0.6"/>
<path d="M341.14 39.84L337.62 37.94L337.62 41.74Z" fill="none" stroke="#d548d5" stroke-width="0.6"/>
<path d="M348.39 41.06L344.88 39.16L344.88 42.96Z" fill="none" stroke="#d548d5" stroke-width="0.6"/>
<path d="M355.64 42.19L352.12 40.29L352.12 44.09Z" fill="none" stroke="#d548d5" stroke-width="0.6"/>
<path d="M362.89 43.56L359.38 41.66L359.38 45.46Z" fill="none" stroke="#d548d5" stroke-width="0.6"/>
<path d="M370.14 44.99L366.62 43.09L366.62 46.89Z" fill="none" stroke="#d548d5" stroke-width="0.6"/>
<path d="M377.39 46.75L373.88 44.85L373.88 48.65Z" fill="none" stroke="#d548d5" stroke-width="0.6"/>
<path d="M384.64 48.54L381.12 46.64L381.12 50.44Z" fill="none" stroke="#d548d5" stroke-width="0.6"/>
<path d="M391.89 50.27L388.38 48.37L388.38 52.17Z" fill="none" stroke="#d548d5" stroke-width="0.6"/>
<path d="M399.14 51.05L395.62 49.15L395.62 52.95Z" fill="none" stroke="#d548d5" stroke-width="0.6"/>
<path d="M406.39 52.46L402.88 50.56L402.88 54.36Z" fill="none" stroke="#d548d5" stroke-width="0.6"/>
<path d="M413.64 53.71L410.12 51.81L410.12 55.61Z" fill="none" stroke="#d548d5" stroke-width="0.6"/>
<path d="M420.89 54.94L417.38 53.04L417.38 56.84Z" fill="none" stroke="#d548d5" stroke-width="0.6"/>
<path d="M428.14 56.17L424.62 54.27L424.62 58.07Z" fill="none" stroke="#d548d5" stroke-width="0.6"/>
<path d="M435.39 57.79L431.88 55.89L431.88 59.69Z" fill="none" stroke="#d548d5" stroke-width="0.6"/>
<path d="M442.64 59.45L439.12 57.55L439.12 61.35Z" fill="none" stroke="#d548d5" stroke-width="0.6"/>
<path d="M449.89 61.14L446.38 59.24L446.38 63.04Z" fill="none" stroke="#d548d5" stroke-width="0.6"/>
<path d="M457.14 62.83L453.62 60.93L453.62 64.73Z" fill="none" stroke="#d548d5" stroke-width="0.6"/>
<path d="M464.39 64.72L460.88 62.82L460.88 66.62Z" fill="none" stroke="#d548d5" stroke-width="0.6"/>
<path d="M471.64 65.16L468.12 63.26L468.12 67.06Z" fill="none" stroke="#d548d5" stroke-width="0.6"/>
<path d="M478.89 65.6L475.38 63.7L475.38 67.5Z" fill="none" stroke="#d548d5" stroke-width="0.6"/>
<path d="M302.8 27.4L312.3 29.3L322.5 30.4L330.7 32.4L339 35.5L346.1 37.1L352.9 39.2L359.8 40.6L367.2 42.3L374.8 43.7L382 45.3L389.1 46.8L420 50.5L450 54L483.5 57.5" fill="none" stroke="#cdcd5a" stroke-width="0.6"/>
<circle cx="302.8" cy="27.4" r="1.9" fill="none" stroke="#bcbc3a" stroke-width="0.6"/>
<circle cx="310.05" cy="28.85" r="1.9" fill="none" stroke="#bcbc3a" stroke-width="0.6"/>
<circle cx="317.3" cy="29.84" r="1.9" fill="none" stroke="#bcbc3a" stroke-width="0.6"/>
<circle cx="324.55" cy="30.9" r="1.9" fill="none" stroke="#bcbc3a" stroke-width="0.6"/>
<circle cx="331.8" cy="32.81" r="1.9" fill="none" stroke="#bcbc3a" stroke-width="0.6"/>
<circle cx="339.05" cy="35.51" r="1.9" fill="none" stroke="#bcbc3a" stroke-width="0.6"/>
<circle cx="346.3" cy="37.16" r="1.9" fill="none" stroke="#bcbc3a" stroke-width="0.6"/>
<circle cx="353.55" cy="39.33" r="1.9" fill="none" stroke="#bcbc3a" stroke-width="0.6"/>
<circle cx="360.8" cy="40.83" r="1.9" fill="none" stroke="#bcbc3a" stroke-width="0.6"/>
<circle cx="368.05" cy="42.46" r="1.9" fill="none" stroke="#bcbc3a" stroke-width="0.6"/>
<circle cx="375.3" cy="43.81" r="1.9" fill="none" stroke="#bcbc3a" stroke-width="0.6"/>
<circle cx="382.55" cy="45.42" r="1.9" fill="none" stroke="#bcbc3a" stroke-width="0.6"/>
<circle cx="389.8" cy="46.88" r="1.9" fill="none" stroke="#bcbc3a" stroke-width="0.6"/>
<circle cx="397.05" cy="47.75" r="1.9" fill="none" stroke="#bcbc3a" stroke-width="0.6"/>
<circle cx="404.3" cy="48.62" r="1.9" fill="none" stroke="#bcbc3a" stroke-width="0.6"/>
<circle cx="411.55" cy="49.49" r="1.9" fill="none" stroke="#bcbc3a" stroke-width="0.6"/>
<circle cx="418.8" cy="50.36" r="1.9" fill="none" stroke="#bcbc3a" stroke-width="0.6"/>
<circle cx="426.05" cy="51.21" r="1.9" fill="none" stroke="#bcbc3a" stroke-width="0.6"/>
<circle cx="433.3" cy="52.05" r="1.9" fill="none" stroke="#bcbc3a" stroke-width="0.6"/>
<circle cx="440.55" cy="52.9" r="1.9" fill="none" stroke="#bcbc3a" stroke-width="0.6"/>
<circle cx="447.8" cy="53.74" r="1.9" fill="none" stroke="#bcbc3a" stroke-width="0.6"/>
<circle cx="455.05" cy="54.53" r="1.9" fill="none" stroke="#bcbc3a" stroke-width="0.6"/>
<circle cx="462.3" cy="55.29" r="1.9" fill="none" stroke="#bcbc3a" stroke-width="0.6"/>
<circle cx="469.55" cy="56.04" r="1.9" fill="none" stroke="#bcbc3a" stroke-width="0.6"/>
<circle cx="476.8" cy="56.8" r="1.9" fill="none" stroke="#bcbc3a" stroke-width="0.6"/>
<path d="M302.8 27.4L330 29.5L360 31.5L372 36.5L411 43L447.4 51.4L483.5 52.6" fill="none" stroke="#a8a8a8" stroke-width="0.6"/>
<path d="M302.8 27.4L310.2 28.3L317.4 28.7L324.6 28.9L331.8 29.3L339 29.8L346 30.4L353.3 30.8L360.5 32.4L367.6 35.5L374.8 36.5L382 36.9L389.1 39.2L396.3 39.6L406.3 40.5L419.6 42.2L428 43.5L434 44.2L442.5 45.6L447.4 45.9L454.6 46.1L460.7 47.1L468 47.3L475 47.6L483.5 47.8" fill="none" stroke="#8484ff" stroke-width="0.6"/>
<rect x="300.9" y="25.5" width="3.8" height="3.8" rx="0.6" fill="none" stroke="#6060ff" stroke-width="0.6"/>
<rect x="308.15" y="26.38" width="3.8" height="3.8" rx="0.6" fill="none" stroke="#6060ff" stroke-width="0.6"/>
<rect x="315.4" y="26.79" width="3.8" height="3.8" rx="0.6" fill="none" stroke="#6060ff" stroke-width="0.6"/>
<rect x="322.65" y="27" width="3.8" height="3.8" rx="0.6" fill="none" stroke="#6060ff" stroke-width="0.6"/>
<rect x="329.9" y="27.4" width="3.8" height="3.8" rx="0.6" fill="none" stroke="#6060ff" stroke-width="0.6"/>
<rect x="337.15" y="27.9" width="3.8" height="3.8" rx="0.6" fill="none" stroke="#6060ff" stroke-width="0.6"/>
<rect x="344.4" y="28.52" width="3.8" height="3.8" rx="0.6" fill="none" stroke="#6060ff" stroke-width="0.6"/>
<rect x="351.65" y="28.96" width="3.8" height="3.8" rx="0.6" fill="none" stroke="#6060ff" stroke-width="0.6"/>
<rect x="358.9" y="30.63" width="3.8" height="3.8" rx="0.6" fill="none" stroke="#6060ff" stroke-width="0.6"/>
<rect x="366.15" y="33.66" width="3.8" height="3.8" rx="0.6" fill="none" stroke="#6060ff" stroke-width="0.6"/>
<rect x="373.4" y="34.63" width="3.8" height="3.8" rx="0.6" fill="none" stroke="#6060ff" stroke-width="0.6"/>
<rect x="380.65" y="35.18" width="3.8" height="3.8" rx="0.6" fill="none" stroke="#6060ff" stroke-width="0.6"/>
<rect x="387.9" y="37.34" width="3.8" height="3.8" rx="0.6" fill="none" stroke="#6060ff" stroke-width="0.6"/>
<rect x="395.15" y="37.77" width="3.8" height="3.8" rx="0.6" fill="none" stroke="#6060ff" stroke-width="0.6"/>
<rect x="402.4" y="38.42" width="3.8" height="3.8" rx="0.6" fill="none" stroke="#6060ff" stroke-width="0.6"/>
<rect x="409.65" y="39.27" width="3.8" height="3.8" rx="0.6" fill="none" stroke="#6060ff" stroke-width="0.6"/>
<rect x="416.9" y="40.2" width="3.8" height="3.8" rx="0.6" fill="none" stroke="#6060ff" stroke-width="0.6"/>
<rect x="424.15" y="41.3" width="3.8" height="3.8" rx="0.6" fill="none" stroke="#6060ff" stroke-width="0.6"/>
<rect x="431.4" y="42.22" width="3.8" height="3.8" rx="0.6" fill="none" stroke="#6060ff" stroke-width="0.6"/>
<rect x="438.65" y="43.38" width="3.8" height="3.8" rx="0.6" fill="none" stroke="#6060ff" stroke-width="0.6"/>
<rect x="445.9" y="44.01" width="3.8" height="3.8" rx="0.6" fill="none" stroke="#6060ff" stroke-width="0.6"/>
<rect x="453.15" y="44.27" width="3.8" height="3.8" rx="0.6" fill="none" stroke="#6060ff" stroke-width="0.6"/>
<rect x="460.4" y="45.24" width="3.8" height="3.8" rx="0.6" fill="none" stroke="#6060ff" stroke-width="0.6"/>
<rect x="467.65" y="45.47" width="3.8" height="3.8" rx="0.6" fill="none" stroke="#6060ff" stroke-width="0.6"/>
<rect x="474.9" y="45.74" width="3.8" height="3.8" rx="0.6" fill="none" stroke="#6060ff" stroke-width="0.6"/>
<path d="M302.8 27.4L324.6 28.9L341 30.4L361.5 31.4L382 32.4L400 33L412.3 34.5L440 36.5L483.5 38.1" fill="none" stroke="#4aa04a" stroke-width="0.6"/>
<circle cx="302.8" cy="27.4" r="1.05" fill="#2a8a2a"/>
<circle cx="310.6" cy="27.94" r="1.05" fill="#2a8a2a"/>
<circle cx="318.4" cy="28.47" r="1.05" fill="#2a8a2a"/>
<circle cx="326.2" cy="29.05" r="1.05" fill="#2a8a2a"/>
<circle cx="334" cy="29.76" r="1.05" fill="#2a8a2a"/>
<circle cx="341.8" cy="30.44" r="1.05" fill="#2a8a2a"/>
<circle cx="349.6" cy="30.82" r="1.05" fill="#2a8a2a"/>
<circle cx="357.4" cy="31.2" r="1.05" fill="#2a8a2a"/>
<circle cx="365.2" cy="31.58" r="1.05" fill="#2a8a2a"/>
<circle cx="373" cy="31.96" r="1.05" fill="#2a8a2a"/>
<circle cx="380.8" cy="32.34" r="1.05" fill="#2a8a2a"/>
<circle cx="388.6" cy="32.62" r="1.05" fill="#2a8a2a"/>
<circle cx="396.4" cy="32.88" r="1.05" fill="#2a8a2a"/>
<circle cx="404.2" cy="33.51" r="1.05" fill="#2a8a2a"/>
<circle cx="412" cy="34.46" r="1.05" fill="#2a8a2a"/>
<circle cx="419.8" cy="35.04" r="1.05" fill="#2a8a2a"/>
<circle cx="427.6" cy="35.6" r="1.05" fill="#2a8a2a"/>
<circle cx="435.4" cy="36.17" r="1.05" fill="#2a8a2a"/>
<circle cx="443.2" cy="36.62" r="1.05" fill="#2a8a2a"/>
<circle cx="451" cy="36.9" r="1.05" fill="#2a8a2a"/>
<circle cx="458.8" cy="37.19" r="1.05" fill="#2a8a2a"/>
<circle cx="466.6" cy="37.48" r="1.05" fill="#2a8a2a"/>
<circle cx="474.4" cy="37.77" r="1.05" fill="#2a8a2a"/>
<circle cx="482.2" cy="38.05" r="1.05" fill="#2a8a2a"/>
<path d="M302.8 27.4L340 29.3L400 30.4L483.5 31.2" fill="none" stroke="#ff8a8a" stroke-width="0.6" stroke-dasharray="9,5.5,3,5.5"/>
</g>
<path d="M302.4 5.2H483.9M302.4 147.4H483.9" stroke="#9c9c9c" stroke-width="0.9" fill="none"/>
<path d="M302.8 5.65V146.95M483.5 5.65V146.95" stroke="#c6c6c6" stroke-width="1.1" fill="none"/>
<path d="M302.8 147.4v-1.8M302.8 5.2v1.8M347.98 147.4v-1.8M347.98 5.2v1.8M393.15 147.4v-1.8M393.15 5.2v1.8M438.32 147.4v-1.8M438.32 5.2v1.8M483.5 147.4v-1.8M483.5 5.2v1.8M302.8 147.4h1.8M483.5 147.4h-1.8M302.8 118.96h1.8M483.5 118.96h-1.8M302.8 90.52h1.8M483.5 90.52h-1.8M302.8 62.08h1.8M483.5 62.08h-1.8M302.8 33.64h1.8M483.5 33.64h-1.8M302.8 5.2h1.8M483.5 5.2h-1.8" stroke="#ababab" stroke-width="0.7" fill="none"/>
<g font-size="5.45" fill="#000" stroke="#000" stroke-width="0.1">
<text transform="matrix(1 0 0 1.15 303.2 154)" text-anchor="middle">0</text>
<text transform="matrix(1 0 0 1.15 348.38 154)" text-anchor="middle">0.5</text>
<text transform="matrix(1 0 0 1.15 393.55 154)" text-anchor="middle">1</text>
<text transform="matrix(1 0 0 1.15 438.72 154)" text-anchor="middle">1.5</text>
<text transform="matrix(1 0 0 1.15 483.9 154)" text-anchor="middle">2</text>
<text transform="matrix(1 0 0 1.15 301 149.06)" text-anchor="end">-20</text>
<text transform="matrix(1 0 0 1.15 301 120.62)" text-anchor="end">-15</text>
<text transform="matrix(1 0 0 1.15 301 92.18)" text-anchor="end">-10</text>
<text transform="matrix(1 0 0 1.15 301 63.74)" text-anchor="end">-5</text>
<text transform="matrix(1 0 0 1.15 301 35.3)" text-anchor="end">0</text>
<text transform="matrix(1 0 0 1.15 301 6.86)" text-anchor="end">5</text>
<text x="482" y="163.9" text-anchor="end">x 10</text>
<text x="482.5" y="160.6" font-size="3.71">4</text>
<text x="392.9" y="161.16" text-anchor="middle" fill="#111" stroke="#111" stroke-width="0.06" font-size="5.3">evaluation number</text>
<text transform="translate(289.16 80.5) scale(1 1) rotate(-90)" text-anchor="middle" fill="#111" stroke="#111" stroke-width="0.06" font-size="5.65">objective function value(Log10 )</text>
</g>
<rect x="433.4" y="66" width="49.1" height="79.4" fill="#fff"/>
<path d="M433 66H482.9M433 145.4H482.9" stroke="#a4a4a4" stroke-width="0.8" fill="none"/>
<path d="M433.4 66.4V145M482.5 66.4V145" stroke="#c4c4c4" stroke-width="1" fill="none"/>
<path d="M436.3 71.5H453.5" stroke="#7878ff" stroke-opacity="0.75" stroke-width="0.8"/>
<path d="M445.3 68.81L446.92 71L445.3 73.19L443.69 71Z" fill="none" stroke="#4848ff" stroke-width="0.6"/>
<text x="456" y="72.96" font-size="5.45" fill="#000" stroke="#000" stroke-width="0.18">HMS=5</text>
<path d="M436.3 78.5H453.5" stroke="#6ab46a" stroke-opacity="0.75" stroke-width="0.8"/>
<circle cx="445.3" cy="78.71" r="1.23" fill="#3c963c" fill-opacity="0.5" stroke="#3c963c" stroke-width="0.55"/>
<text x="456" y="80.67" font-size="5.45" fill="#000" stroke="#000" stroke-width="0.18">HMS=10</text>
<path d="M436.3 86.5H453.5" stroke="#ff7a7a" stroke-opacity="0.75" stroke-width="0.8"/>
<path d="M445.3 84.33L447.2 87.84L443.4 87.84Z" fill="none" stroke="#ff4a4a" stroke-width="0.6"/>
<text x="456" y="88.38" font-size="5.45" fill="#000" stroke="#000" stroke-width="0.18">HMS=20</text>
<path d="M436.3 94.5H453.5" stroke="#6ad8d0" stroke-opacity="0.75" stroke-width="0.8"/>
<path d="M443.21 94.13L446.73 92.23L446.73 96.03Z" fill="none" stroke="#36c4c0" stroke-width="0.6"/>
<text x="456" y="96.09" font-size="5.45" fill="#000" stroke="#000" stroke-width="0.18">HMS=40</text>
<path d="M436.3 101.5H453.5" stroke="#dc6edc" stroke-opacity="0.75" stroke-width="0.8"/>
<path d="M447.39 101.84L443.88 99.94L443.88 103.74Z" fill="none" stroke="#d548d5" stroke-width="0.6"/>
<text x="456" y="103.8" font-size="5.45" fill="#000" stroke="#000" stroke-width="0.18">HMS=80</text>
<path d="M436.3 109.5H453.5" stroke="#cdcd5a" stroke-opacity="0.75" stroke-width="0.8"/>
<circle cx="445.3" cy="109.55" r="1.9" fill="none" stroke="#bcbc3a" stroke-width="0.6"/>
<text x="456" y="111.51" font-size="5.45" fill="#000" stroke="#000" stroke-width="0.18">HMS=100</text>
<path d="M436.3 117.5H453.5" stroke="#a8a8a8" stroke-opacity="0.75" stroke-width="0.8"/>

<text x="456" y="119.22" font-size="5.45" fill="#000" stroke="#000" stroke-width="0.18">HMS=120</text>
<path d="M436.3 124.5H453.5" stroke="#8484ff" stroke-opacity="0.75" stroke-width="0.8"/>
<rect x="443.4" y="123.07" width="3.8" height="3.8" rx="0.6" fill="none" stroke="#6060ff" stroke-width="0.6"/>
<text x="456" y="126.93" font-size="5.45" fill="#000" stroke="#000" stroke-width="0.18">HMS=150</text>
<path d="M436.3 132.5H453.5" stroke="#4aa04a" stroke-opacity="0.75" stroke-width="0.8"/>
<circle cx="445.3" cy="132.68" r="1.05" fill="#2a8a2a"/>
<text x="456" y="134.64" font-size="5.45" fill="#000" stroke="#000" stroke-width="0.18">HMS=200</text>
<path d="M436.3 140.5H453.5" stroke="#ff8a8a" stroke-opacity="0.75" stroke-width="0.8" stroke-dasharray="9,5.5,3,5.5"/>

<text x="456" y="142.35" font-size="5.45" fill="#000" stroke="#000" stroke-width="0.18">HMS=500</text>
<text x="389" y="178.5" text-anchor="middle" font-family="Liberation Serif, serif" font-weight="bold" font-size="11.8" fill="#111">(f)</text>
<clipPath id="cg"><rect x="24.9" y="196.4" width="174.6" height="138.2"/></clipPath>
<g clip-path="url(#cg)">
<path d="M27.9 291.8L34.64 298L41.39 298.6L48.13 301L54.88 302L61.62 302.6L68.36 302.6L75.11 302.6L81.85 302.6L88.6 302.6L95.34 302.6L102.08 302.6L108.83 302.6L124.25 302.6L130.82 302.6L137.39 302.6L143.96 302.6L150.53 302.6L157.09 302.6L163.66 302.6L170.23 302.6L176.8 302.6L183.36 302.6L189.93 302.6L196.5 302.6" fill="none" stroke="#7878ff" stroke-width="0.6"/>
<path d="M27.9 289.72L29.43 291.8L27.9 293.88L26.37 291.8Z" fill="none" stroke="#4848ff" stroke-width="0.6"/>
<path d="M34.64 295.92L36.18 298L34.64 300.08L33.11 298Z" fill="none" stroke="#4848ff" stroke-width="0.6"/>
<path d="M41.39 296.52L42.92 298.6L41.39 300.68L39.85 298.6Z" fill="none" stroke="#4848ff" stroke-width="0.6"/>
<path d="M48.13 298.92L49.67 301L48.13 303.08L46.6 301Z" fill="none" stroke="#4848ff" stroke-width="0.6"/>
<path d="M54.88 299.92L56.41 302L54.88 304.08L53.34 302Z" fill="none" stroke="#4848ff" stroke-width="0.6"/>
<path d="M61.62 300.52L63.15 302.6L61.62 304.68L60.09 302.6Z" fill="none" stroke="#4848ff" stroke-width="0.6"/>
<path d="M68.36 300.52L69.9 302.6L68.36 304.68L66.83 302.6Z" fill="none" stroke="#4848ff" stroke-width="0.6"/>
<path d="M75.11 300.52L76.64 302.6L75.11 304.68L73.57 302.6Z" fill="none" stroke="#4848ff" stroke-width="0.6"/>
<path d="M81.85 300.52L83.39 302.6L81.85 304.68L80.32 302.6Z" fill="none" stroke="#4848ff" stroke-width="0.6"/>
<path d="M88.6 300.52L90.13 302.6L88.6 304.68L87.06 302.6Z" fill="none" stroke="#4848ff" stroke-width="0.6"/>
<path d="M95.34 300.52L96.87 302.6L95.34 304.68L93.81 302.6Z" fill="none" stroke="#4848ff" stroke-width="0.6"/>
<path d="M102.08 300.52L103.62 302.6L102.08 304.68L100.55 302.6Z" fill="none" stroke="#4848ff" stroke-width="0.6"/>
<path d="M108.83 300.52L110.36 302.6L108.83 304.68L107.29 302.6Z" fill="none" stroke="#4848ff" stroke-width="0.6"/>
<path d="M124.25 300.52L125.79 302.6L124.25 304.68L122.72 302.6Z" fill="none" stroke="#4848ff" stroke-width="0.6"/>
<path d="M130.82 300.52L132.36 302.6L130.82 304.68L129.29 302.6Z" fill="none" stroke="#4848ff" stroke-width="0.6"/>
<path d="M137.39 300.52L138.92 302.6L137.39 304.68L135.86 302.6Z" fill="none" stroke="#4848ff" stroke-width="0.6"/>
<path d="M143.96 300.52L145.49 302.6L143.96 304.68L142.42 302.6Z" fill="none" stroke="#4848ff" stroke-width="0.6"/>
<path d="M150.53 300.52L152.06 302.6L150.53 304.68L148.99 302.6Z" fill="none" stroke="#4848ff" stroke-width="0.6"/>
<path d="M157.09 300.52L158.63 302.6L157.09 304.68L155.56 302.6Z" fill="none" stroke="#4848ff" stroke-width="0.6"/>
<path d="M163.66 300.52L165.2 302.6L163.66 304.68L162.13 302.6Z" fill="none" stroke="#4848ff" stroke-width="0.6"/>
<path d="M170.23 300.52L171.76 302.6L170.23 304.68L168.69 302.6Z" fill="none" stroke="#4848ff" stroke-width="0.6"/>
<path d="M176.8 300.52L178.33 302.6L176.8 304.68L175.26 302.6Z" fill="none" stroke="#4848ff" stroke-width="0.6"/>
<path d="M183.36 300.52L184.9 302.6L183.36 304.68L181.83 302.6Z" fill="none" stroke="#4848ff" stroke-width="0.6"/>
<path d="M189.93 300.52L191.47 302.6L189.93 304.68L188.4 302.6Z" fill="none" stroke="#4848ff" stroke-width="0.6"/>
<path d="M196.5 300.52L198.03 302.6L196.5 304.68L194.97 302.6Z" fill="none" stroke="#4848ff" stroke-width="0.6"/>
<path d="M27.9 297.4L34.64 299.5L41.39 301L48.13 302L54.88 302.6L61.62 302.6L68.36 302.6L75.11 302.6L81.85 302.6L88.6 302.6L95.34 302.6L102.08 302.6L108.83 302.6L124.25 302.6L130.82 302.6L137.39 302.6L143.96 302.6L150.53 302.6L157.09 302.6L163.66 302.6L170.23 302.6L176.8 302.6L183.36 302.6L189.93 302.6L196.5 302.6" fill="none" stroke="#6ab46a" stroke-width="0.6"/>
<circle cx="27.9" cy="297.4" r="1.17" fill="#3c963c" fill-opacity="0.5" stroke="#3c963c" stroke-width="0.55"/>
<circle cx="34.64" cy="299.5" r="1.17" fill="#3c963c" fill-opacity="0.5" stroke="#3c963c" stroke-width="0.55"/>
<circle cx="41.39" cy="301" r="1.17" fill="#3c963c" fill-opacity="0.5" stroke="#3c963c" stroke-width="0.55"/>
<circle cx="48.13" cy="302" r="1.17" fill="#3c963c" fill-opacity="0.5" stroke="#3c963c" stroke-width="0.55"/>
<circle cx="54.88" cy="302.6" r="1.17" fill="#3c963c" fill-opacity="0.5" stroke="#3c963c" stroke-width="0.55"/>
<circle cx="61.62" cy="302.6" r="1.17" fill="#3c963c" fill-opacity="0.5" stroke="#3c963c" stroke-width="0.55"/>
<circle cx="68.36" cy="302.6" r="1.17" fill="#3c963c" fill-opacity="0.5" stroke="#3c963c" stroke-width="0.55"/>
<circle cx="75.11" cy="302.6" r="1.17" fill="#3c963c" fill-opacity="0.5" stroke="#3c963c" stroke-width="0.55"/>
<circle cx="81.85" cy="302.6" r="1.17" fill="#3c963c" fill-opacity="0.5" stroke="#3c963c" stroke-width="0.55"/>
<circle cx="88.6" cy="302.6" r="1.17" fill="#3c963c" fill-opacity="0.5" stroke="#3c963c" stroke-width="0.55"/>
<circle cx="95.34" cy="302.6" r="1.17" fill="#3c963c" fill-opacity="0.5" stroke="#3c963c" stroke-width="0.55"/>
<circle cx="102.08" cy="302.6" r="1.17" fill="#3c963c" fill-opacity="0.5" stroke="#3c963c" stroke-width="0.55"/>
<circle cx="108.83" cy="302.6" r="1.17" fill="#3c963c" fill-opacity="0.5" stroke="#3c963c" stroke-width="0.55"/>
<circle cx="124.25" cy="302.6" r="1.17" fill="#3c963c" fill-opacity="0.5" stroke="#3c963c" stroke-width="0.55"/>
<circle cx="130.82" cy="302.6" r="1.17" fill="#3c963c" fill-opacity="0.5" stroke="#3c963c" stroke-width="0.55"/>
<circle cx="137.39" cy="302.6" r="1.17" fill="#3c963c" fill-opacity="0.5" stroke="#3c963c" stroke-width="0.55"/>
<circle cx="143.96" cy="302.6" r="1.17" fill="#3c963c" fill-opacity="0.5" stroke="#3c963c" stroke-width="0.55"/>
<circle cx="150.53" cy="302.6" r="1.17" fill="#3c963c" fill-opacity="0.5" stroke="#3c963c" stroke-width="0.55"/>
<circle cx="157.09" cy="302.6" r="1.17" fill="#3c963c" fill-opacity="0.5" stroke="#3c963c" stroke-width="0.55"/>
<circle cx="163.66" cy="302.6" r="1.17" fill="#3c963c" fill-opacity="0.5" stroke="#3c963c" stroke-width="0.55"/>
<circle cx="170.23" cy="302.6" r="1.17" fill="#3c963c" fill-opacity="0.5" stroke="#3c963c" stroke-width="0.55"/>
<circle cx="176.8" cy="302.6" r="1.17" fill="#3c963c" fill-opacity="0.5" stroke="#3c963c" stroke-width="0.55"/>
<circle cx="183.36" cy="302.6" r="1.17" fill="#3c963c" fill-opacity="0.5" stroke="#3c963c" stroke-width="0.55"/>
<circle cx="189.93" cy="302.6" r="1.17" fill="#3c963c" fill-opacity="0.5" stroke="#3c963c" stroke-width="0.55"/>
<circle cx="196.5" cy="302.6" r="1.17" fill="#3c963c" fill-opacity="0.5" stroke="#3c963c" stroke-width="0.55"/>
<path d="M27.9 241.6L34.64 278.5L41.39 287.7L48.13 293.9L54.88 297L61.62 300.5L68.36 302.6L75.11 302.6L81.85 302.6L88.6 302.6L95.34 302.6L102.08 302.6L108.83 302.6L124.25 302.6L130.82 302.6L137.39 302.6L143.96 302.6L150.53 302.6L157.09 302.6L163.66 302.6L170.23 302.6L176.8 302.6L183.36 302.6L189.93 302.6L196.5 302.6" fill="none" stroke="#ff7a7a" stroke-width="0.6"/>
<path d="M27.9 239.61L29.7 242.95L26.09 242.95Z" fill="none" stroke="#ff4a4a" stroke-width="0.6"/>
<path d="M34.64 276.51L36.45 279.85L32.84 279.85Z" fill="none" stroke="#ff4a4a" stroke-width="0.6"/>
<path d="M41.39 285.71L43.19 289.05L39.58 289.05Z" fill="none" stroke="#ff4a4a" stroke-width="0.6"/>
<path d="M48.13 291.91L49.94 295.25L46.33 295.25Z" fill="none" stroke="#ff4a4a" stroke-width="0.6"/>
<path d="M54.88 295.01L56.68 298.35L53.07 298.35Z" fill="none" stroke="#ff4a4a" stroke-width="0.6"/>
<path d="M61.62 298.51L63.42 301.85L59.81 301.85Z" fill="none" stroke="#ff4a4a" stroke-width="0.6"/>
<path d="M68.36 300.61L70.17 303.95L66.56 303.95Z" fill="none" stroke="#ff4a4a" stroke-width="0.6"/>
<path d="M75.11 300.61L76.91 303.95L73.3 303.95Z" fill="none" stroke="#ff4a4a" stroke-width="0.6"/>
<path d="M81.85 300.61L83.66 303.95L80.05 303.95Z" fill="none" stroke="#ff4a4a" stroke-width="0.6"/>
<path d="M88.6 300.61L90.4 303.95L86.79 303.95Z" fill="none" stroke="#ff4a4a" stroke-width="0.6"/>
<path d="M95.34 300.61L97.15 303.95L93.53 303.95Z" fill="none" stroke="#ff4a4a" stroke-width="0.6"/>
<path d="M102.08 300.61L103.89 303.95L100.28 303.95Z" fill="none" stroke="#ff4a4a" stroke-width="0.6"/>
<path d="M108.83 300.61L110.63 303.95L107.02 303.95Z" fill="none" stroke="#ff4a4a" stroke-width="0.6"/>
<path d="M124.25 300.61L126.06 303.95L122.45 303.95Z" fill="none" stroke="#ff4a4a" stroke-width="0.6"/>
<path d="M130.82 300.61L132.63 303.95L129.02 303.95Z" fill="none" stroke="#ff4a4a" stroke-width="0.6"/>
<path d="M137.39 300.61L139.2 303.95L135.59 303.95Z" fill="none" stroke="#ff4a4a" stroke-width="0.6"/>
<path d="M143.96 300.61L145.76 303.95L142.15 303.95Z" fill="none" stroke="#ff4a4a" stroke-width="0.6"/>
<path d="M150.53 300.61L152.33 303.95L148.72 303.95Z" fill="none" stroke="#ff4a4a" stroke-width="0.6"/>
<path d="M157.09 300.61L158.9 303.95L155.29 303.95Z" fill="none" stroke="#ff4a4a" stroke-width="0.6"/>
<path d="M163.66 300.61L165.47 303.95L161.86 303.95Z" fill="none" stroke="#ff4a4a" stroke-width="0.6"/>
<path d="M170.23 300.61L172.03 303.95L168.42 303.95Z" fill="none" stroke="#ff4a4a" stroke-width="0.6"/>
<path d="M176.8 300.61L178.6 303.95L174.99 303.95Z" fill="none" stroke="#ff4a4a" stroke-width="0.6"/>
<path d="M183.36 300.61L185.17 303.95L181.56 303.95Z" fill="none" stroke="#ff4a4a" stroke-width="0.6"/>
<path d="M189.93 300.61L191.74 303.95L188.13 303.95Z" fill="none" stroke="#ff4a4a" stroke-width="0.6"/>
<path d="M196.5 300.61L198.31 303.95L194.69 303.95Z" fill="none" stroke="#ff4a4a" stroke-width="0.6"/>
<path d="M27.9 225.2L34.64 277.5L41.39 281.6L48.13 287.1L54.88 297L61.62 299L68.36 302.6L75.11 302.6L81.85 302.6L88.6 302.6L95.34 302.6L102.08 302.6L108.83 302.6L124.25 302.6L130.82 302.6L137.39 302.6L143.96 302.6L150.53 302.6L157.09 302.6L163.66 302.6L170.23 302.6L176.8 302.6L183.36 302.6L189.93 302.6L196.5 302.6" fill="none" stroke="#6ad8d0" stroke-width="0.6"/>
<path d="M25.91 225.2L29.25 223.39L29.25 227Z" fill="none" stroke="#36c4c0" stroke-width="0.6"/>
<path d="M32.66 277.5L36 275.69L36 279.31Z" fill="none" stroke="#36c4c0" stroke-width="0.6"/>
<path d="M39.4 281.6L42.74 279.8L42.74 283.41Z" fill="none" stroke="#36c4c0" stroke-width="0.6"/>
<path d="M46.15 287.1L49.49 285.3L49.49 288.91Z" fill="none" stroke="#36c4c0" stroke-width="0.6"/>
<path d="M52.89 297L56.23 295.19L56.23 298.81Z" fill="none" stroke="#36c4c0" stroke-width="0.6"/>
<path d="M59.63 299L62.97 297.19L62.97 300.81Z" fill="none" stroke="#36c4c0" stroke-width="0.6"/>
<path d="M66.38 302.6L69.72 300.8L69.72 304.41Z" fill="none" stroke="#36c4c0" stroke-width="0.6"/>
<path d="M73.12 302.6L76.46 300.8L76.46 304.41Z" fill="none" stroke="#36c4c0" stroke-width="0.6"/>
<path d="M79.87 302.6L83.21 300.8L83.21 304.41Z" fill="none" stroke="#36c4c0" stroke-width="0.6"/>
<path d="M86.61 302.6L89.95 300.8L89.95 304.41Z" fill="none" stroke="#36c4c0" stroke-width="0.6"/>
<path d="M93.35 302.6L96.69 300.8L96.69 304.41Z" fill="none" stroke="#36c4c0" stroke-width="0.6"/>
<path d="M100.1 302.6L103.44 300.8L103.44 304.41Z" fill="none" stroke="#36c4c0" stroke-width="0.6"/>
<path d="M106.84 302.6L110.18 300.8L110.18 304.41Z" fill="none" stroke="#36c4c0" stroke-width="0.6"/>
<path d="M122.27 302.6L125.61 300.8L125.61 304.41Z" fill="none" stroke="#36c4c0" stroke-width="0.6"/>
<path d="M128.84 302.6L132.18 300.8L132.18 304.41Z" fill="none" stroke="#36c4c0" stroke-width="0.6"/>
<path d="M135.4 302.6L138.74 300.8L138.74 304.41Z" fill="none" stroke="#36c4c0" stroke-width="0.6"/>
<path d="M141.97 302.6L145.31 300.8L145.31 304.41Z" fill="none" stroke="#36c4c0" stroke-width="0.6"/>
<path d="M148.54 302.6L151.88 300.8L151.88 304.41Z" fill="none" stroke="#36c4c0" stroke-width="0.6"/>
<path d="M155.11 302.6L158.45 300.8L158.45 304.41Z" fill="none" stroke="#36c4c0" stroke-width="0.6"/>
<path d="M161.68 302.6L165.02 300.8L165.02 304.41Z" fill="none" stroke="#36c4c0" stroke-width="0.6"/>
<path d="M168.24 302.6L171.58 300.8L171.58 304.41Z" fill="none" stroke="#36c4c0" stroke-width="0.6"/>
<path d="M174.81 302.6L178.15 300.8L178.15 304.41Z" fill="none" stroke="#36c4c0" stroke-width="0.6"/>
<path d="M181.38 302.6L184.72 300.8L184.72 304.41Z" fill="none" stroke="#36c4c0" stroke-width="0.6"/>
<path d="M187.95 302.6L191.29 300.8L191.29 304.41Z" fill="none" stroke="#36c4c0" stroke-width="0.6"/>
<path d="M194.51 302.6L197.85 300.8L197.85 304.41Z" fill="none" stroke="#36c4c0" stroke-width="0.6"/>
<path d="M27.9 240.6L34.64 260L41.39 264.2L48.13 269.3L54.88 272.4L61.62 276.5L68.36 280.2L75.11 284.7L81.85 290.4L88.6 296L95.34 299L102.08 302.6L108.83 302.6L124.25 302.6L130.82 302.6L137.39 302.6L143.96 302.6L150.53 302.6L157.09 302.6L163.66 302.6L170.23 302.6L176.8 302.6L183.36 302.6L189.93 302.6L196.5 302.6" fill="none" stroke="#dc6edc" stroke-width="0.6"/>
<path d="M29.89 240.6L26.55 238.79L26.55 242.41Z" fill="none" stroke="#d548d5" stroke-width="0.6"/>
<path d="M36.63 260L33.29 258.19L33.29 261.81Z" fill="none" stroke="#d548d5" stroke-width="0.6"/>
<path d="M43.37 264.2L40.03 262.39L40.03 266Z" fill="none" stroke="#d548d5" stroke-width="0.6"/>
<path d="M50.12 269.3L46.78 267.5L46.78 271.11Z" fill="none" stroke="#d548d5" stroke-width="0.6"/>
<path d="M56.86 272.4L53.52 270.59L53.52 274.2Z" fill="none" stroke="#d548d5" stroke-width="0.6"/>
<path d="M63.61 276.5L60.27 274.69L60.27 278.31Z" fill="none" stroke="#d548d5" stroke-width="0.6"/>
<path d="M70.35 280.2L67.01 278.39L67.01 282Z" fill="none" stroke="#d548d5" stroke-width="0.6"/>
<path d="M77.09 284.7L73.75 282.89L73.75 286.5Z" fill="none" stroke="#d548d5" stroke-width="0.6"/>
<path d="M83.84 290.4L80.5 288.59L80.5 292.2Z" fill="none" stroke="#d548d5" stroke-width="0.6"/>
<path d="M90.58 296L87.24 294.19L87.24 297.81Z" fill="none" stroke="#d548d5" stroke-width="0.6"/>
<path d="M97.33 299L93.99 297.19L93.99 300.81Z" fill="none" stroke="#d548d5" stroke-width="0.6"/>
<path d="M104.07 302.6L100.73 300.8L100.73 304.41Z" fill="none" stroke="#d548d5" stroke-width="0.6"/>
<path d="M110.81 302.6L107.47 300.8L107.47 304.41Z" fill="none" stroke="#d548d5" stroke-width="0.6"/>
<path d="M126.24 302.6L122.9 300.8L122.9 304.41Z" fill="none" stroke="#d548d5" stroke-width="0.6"/>
<path d="M132.81 302.6L129.47 300.8L129.47 304.41Z" fill="none" stroke="#d548d5" stroke-width="0.6"/>
<path d="M139.38 302.6L136.04 300.8L136.04 304.41Z" fill="none" stroke="#d548d5" stroke-width="0.6"/>
<path d="M145.94 302.6L142.6 300.8L142.6 304.41Z" fill="none" stroke="#d548d5" stroke-width="0.6"/>
<path d="M152.51 302.6L149.17 300.8L149.17 304.41Z" fill="none" stroke="#d548d5" stroke-width="0.6"/>
<path d="M159.08 302.6L155.74 300.8L155.74 304.41Z" fill="none" stroke="#d548d5" stroke-width="0.6"/>
<path d="M165.65 302.6L162.31 300.8L162.31 304.41Z" fill="none" stroke="#d548d5" stroke-width="0.6"/>
<path d="M172.21 302.6L168.88 300.8L168.88 304.41Z" fill="none" stroke="#d548d5" stroke-width="0.6"/>
<path d="M178.78 302.6L175.44 300.8L175.44 304.41Z" fill="none" stroke="#d548d5" stroke-width="0.6"/>
<path d="M185.35 302.6L182.01 300.8L182.01 304.41Z" fill="none" stroke="#d548d5" stroke-width="0.6"/>
<path d="M191.92 302.6L188.58 300.8L188.58 304.41Z" fill="none" stroke="#d548d5" stroke-width="0.6"/>
<path d="M198.49 302.6L195.15 300.8L195.15 304.41Z" fill="none" stroke="#d548d5" stroke-width="0.6"/>
<path d="M27.9 221.1L34.64 247.8L41.39 265.2L48.13 269.3L54.88 273L61.62 275.5L68.36 277.5L75.11 280.6L81.85 284.7L88.6 295L95.34 300L102.08 302.6L108.83 302.6L124.25 302.6L130.82 302.6L137.39 302.6L143.96 302.6L150.53 302.6L157.09 302.6L163.66 302.6L170.23 302.6L176.8 302.6L183.36 302.6L189.93 302.6L196.5 302.6" fill="none" stroke="#cdcd5a" stroke-width="0.6"/>
<circle cx="27.9" cy="221.1" r="1.8" fill="none" stroke="#bcbc3a" stroke-width="0.6"/>
<circle cx="34.64" cy="247.8" r="1.8" fill="none" stroke="#bcbc3a" stroke-width="0.6"/>
<circle cx="41.39" cy="265.2" r="1.8" fill="none" stroke="#bcbc3a" stroke-width="0.6"/>
<circle cx="48.13" cy="269.3" r="1.8" fill="none" stroke="#bcbc3a" stroke-width="0.6"/>
<circle cx="54.88" cy="273" r="1.8" fill="none" stroke="#bcbc3a" stroke-width="0.6"/>
<circle cx="61.62" cy="275.5" r="1.8" fill="none" stroke="#bcbc3a" stroke-width="0.6"/>
<circle cx="68.36" cy="277.5" r="1.8" fill="none" stroke="#bcbc3a" stroke-width="0.6"/>
<circle cx="75.11" cy="280.6" r="1.8" fill="none" stroke="#bcbc3a" stroke-width="0.6"/>
<circle cx="81.85" cy="284.7" r="1.8" fill="none" stroke="#bcbc3a" stroke-width="0.6"/>
<circle cx="88.6" cy="295" r="1.8" fill="none" stroke="#bcbc3a" stroke-width="0.6"/>
<circle cx="95.34" cy="300" r="1.8" fill="none" stroke="#bcbc3a" stroke-width="0.6"/>
<circle cx="102.08" cy="302.6" r="1.8" fill="none" stroke="#bcbc3a" stroke-width="0.6"/>
<circle cx="108.83" cy="302.6" r="1.8" fill="none" stroke="#bcbc3a" stroke-width="0.6"/>
<circle cx="124.25" cy="302.6" r="1.8" fill="none" stroke="#bcbc3a" stroke-width="0.6"/>
<circle cx="130.82" cy="302.6" r="1.8" fill="none" stroke="#bcbc3a" stroke-width="0.6"/>
<circle cx="137.39" cy="302.6" r="1.8" fill="none" stroke="#bcbc3a" stroke-width="0.6"/>
<circle cx="143.96" cy="302.6" r="1.8" fill="none" stroke="#bcbc3a" stroke-width="0.6"/>
<circle cx="150.53" cy="302.6" r="1.8" fill="none" stroke="#bcbc3a" stroke-width="0.6"/>
<circle cx="157.09" cy="302.6" r="1.8" fill="none" stroke="#bcbc3a" stroke-width="0.6"/>
<circle cx="163.66" cy="302.6" r="1.8" fill="none" stroke="#bcbc3a" stroke-width="0.6"/>
<circle cx="170.23" cy="302.6" r="1.8" fill="none" stroke="#bcbc3a" stroke-width="0.6"/>
<circle cx="176.8" cy="302.6" r="1.8" fill="none" stroke="#bcbc3a" stroke-width="0.6"/>
<circle cx="183.36" cy="302.6" r="1.8" fill="none" stroke="#bcbc3a" stroke-width="0.6"/>
<circle cx="189.93" cy="302.6" r="1.8" fill="none" stroke="#bcbc3a" stroke-width="0.6"/>
<circle cx="196.5" cy="302.6" r="1.8" fill="none" stroke="#bcbc3a" stroke-width="0.6"/>
<path d="M27.9 225.2L34.64 245.7L41.39 264.2L48.13 273.4L54.88 275L61.62 276.5L68.36 281L75.11 285.7L81.85 292.9L88.6 298L95.34 300.5L102.08 302.6L108.83 302.6L124.25 302.6L130.82 302.6L137.39 302.6L143.96 302.6L150.53 302.6L157.09 302.6L163.66 302.6L170.23 302.6L176.8 302.6L183.36 302.6L189.93 302.6L196.5 302.6" fill="none" stroke="#a8a8a8" stroke-width="0.6"/>
<path d="M27.9 225.2L34.64 242.7L41.39 263.2L48.13 269.3L54.88 273.4L61.62 277.5L68.36 282.6L75.11 293.9L81.85 296L88.6 298L95.34 301L102.08 302.6L108.83 302.6L124.25 302.6L130.82 302.6L137.39 302.6L143.96 302.6L150.53 302.6L157.09 302.6L163.66 302.6L170.23 302.6L176.8 302.6L183.36 302.6L189.93 302.6L196.5 302.6" fill="none" stroke="#8484ff" stroke-width="0.6"/>
<rect x="26.09" y="223.39" width="3.61" height="3.61" rx="0.6" fill="none" stroke="#6060ff" stroke-width="0.6"/>
<rect x="32.84" y="240.89" width="3.61" height="3.61" rx="0.6" fill="none" stroke="#6060ff" stroke-width="0.6"/>
<rect x="39.58" y="261.39" width="3.61" height="3.61" rx="0.6" fill="none" stroke="#6060ff" stroke-width="0.6"/>
<rect x="46.33" y="267.5" width="3.61" height="3.61" rx="0.6" fill="none" stroke="#6060ff" stroke-width="0.6"/>
<rect x="53.07" y="271.59" width="3.61" height="3.61" rx="0.6" fill="none" stroke="#6060ff" stroke-width="0.6"/>
<rect x="59.81" y="275.69" width="3.61" height="3.61" rx="0.6" fill="none" stroke="#6060ff" stroke-width="0.6"/>
<rect x="66.56" y="280.8" width="3.61" height="3.61" rx="0.6" fill="none" stroke="#6060ff" stroke-width="0.6"/>
<rect x="73.3" y="292.09" width="3.61" height="3.61" rx="0.6" fill="none" stroke="#6060ff" stroke-width="0.6"/>
<rect x="80.05" y="294.19" width="3.61" height="3.61" rx="0.6" fill="none" stroke="#6060ff" stroke-width="0.6"/>
<rect x="86.79" y="296.19" width="3.61" height="3.61" rx="0.6" fill="none" stroke="#6060ff" stroke-width="0.6"/>
<rect x="93.53" y="299.19" width="3.61" height="3.61" rx="0.6" fill="none" stroke="#6060ff" stroke-width="0.6"/>
<rect x="100.28" y="300.8" width="3.61" height="3.61" rx="0.6" fill="none" stroke="#6060ff" stroke-width="0.6"/>
<rect x="107.02" y="300.8" width="3.61" height="3.61" rx="0.6" fill="none" stroke="#6060ff" stroke-width="0.6"/>
<rect x="122.45" y="300.8" width="3.61" height="3.61" rx="0.6" fill="none" stroke="#6060ff" stroke-width="0.6"/>
<rect x="129.02" y="300.8" width="3.61" height="3.61" rx="0.6" fill="none" stroke="#6060ff" stroke-width="0.6"/>
<rect x="135.59" y="300.8" width="3.61" height="3.61" rx="0.6" fill="none" stroke="#6060ff" stroke-width="0.6"/>
<rect x="142.15" y="300.8" width="3.61" height="3.61" rx="0.6" fill="none" stroke="#6060ff" stroke-width="0.6"/>
<rect x="148.72" y="300.8" width="3.61" height="3.61" rx="0.6" fill="none" stroke="#6060ff" stroke-width="0.6"/>
<rect x="155.29" y="300.8" width="3.61" height="3.61" rx="0.6" fill="none" stroke="#6060ff" stroke-width="0.6"/>
<rect x="161.86" y="300.8" width="3.61" height="3.61" rx="0.6" fill="none" stroke="#6060ff" stroke-width="0.6"/>
<rect x="168.42" y="300.8" width="3.61" height="3.61" rx="0.6" fill="none" stroke="#6060ff" stroke-width="0.6"/>
<rect x="174.99" y="300.8" width="3.61" height="3.61" rx="0.6" fill="none" stroke="#6060ff" stroke-width="0.6"/>
<rect x="181.56" y="300.8" width="3.61" height="3.61" rx="0.6" fill="none" stroke="#6060ff" stroke-width="0.6"/>
<rect x="188.13" y="300.8" width="3.61" height="3.61" rx="0.6" fill="none" stroke="#6060ff" stroke-width="0.6"/>
<rect x="194.69" y="300.8" width="3.61" height="3.61" rx="0.6" fill="none" stroke="#6060ff" stroke-width="0.6"/>
<path d="M27.9 225.2L34.64 234.5L41.39 243.7L48.13 256.4L54.88 256.4L61.62 265.2L68.36 270L75.11 275L81.85 278.5L88.6 283.2L95.34 287.8L102.08 293L108.83 295.2L124.25 298.2L130.82 299.7L137.39 302.6L143.96 302.6L150.53 302.6L157.09 302.6L163.66 302.6L170.23 302.6L176.8 302.6L183.36 302.6L189.93 302.6L196.5 302.6" fill="none" stroke="#4aa04a" stroke-width="0.6"/>
<circle cx="27.9" cy="225.2" r="1" fill="#2a8a2a"/>
<circle cx="34.64" cy="234.5" r="1" fill="#2a8a2a"/>
<circle cx="41.39" cy="243.7" r="1" fill="#2a8a2a"/>
<circle cx="48.13" cy="256.4" r="1" fill="#2a8a2a"/>
<circle cx="54.88" cy="256.4" r="1" fill="#2a8a2a"/>
<circle cx="61.62" cy="265.2" r="1" fill="#2a8a2a"/>
<circle cx="68.36" cy="270" r="1" fill="#2a8a2a"/>
<circle cx="75.11" cy="275" r="1" fill="#2a8a2a"/>
<circle cx="81.85" cy="278.5" r="1" fill="#2a8a2a"/>
<circle cx="88.6" cy="283.2" r="1" fill="#2a8a2a"/>
<circle cx="95.34" cy="287.8" r="1" fill="#2a8a2a"/>
<circle cx="102.08" cy="293" r="1" fill="#2a8a2a"/>
<circle cx="108.83" cy="295.2" r="1" fill="#2a8a2a"/>
<circle cx="124.25" cy="298.2" r="1" fill="#2a8a2a"/>
<circle cx="130.82" cy="299.7" r="1" fill="#2a8a2a"/>
<circle cx="137.39" cy="302.6" r="1" fill="#2a8a2a"/>
<circle cx="143.96" cy="302.6" r="1" fill="#2a8a2a"/>
<circle cx="150.53" cy="302.6" r="1" fill="#2a8a2a"/>
<circle cx="157.09" cy="302.6" r="1" fill="#2a8a2a"/>
<circle cx="163.66" cy="302.6" r="1" fill="#2a8a2a"/>
<circle cx="170.23" cy="302.6" r="1" fill="#2a8a2a"/>
<circle cx="176.8" cy="302.6" r="1" fill="#2a8a2a"/>
<circle cx="183.36" cy="302.6" r="1" fill="#2a8a2a"/>
<circle cx="189.93" cy="302.6" r="1" fill="#2a8a2a"/>
<circle cx="196.5" cy="302.6" r="1" fill="#2a8a2a"/>
<path d="M27.9 292L34.64 299L41.39 299L48.13 301.5L54.88 302L61.62 302.6L68.36 302.6L75.11 302.6L81.85 302.6L88.6 302.6L95.34 302.6L102.08 302.6L108.83 302.6L124.25 302.6L130.82 302.6L137.39 302.6L143.96 302.6L150.53 302.6L157.09 302.6L163.66 302.6L170.23 302.6L176.8 302.6L183.36 302.6L189.93 302.6L196.5 302.6" fill="none" stroke="#62c4cc" stroke-width="0.8"/>
<circle cx="54.88" cy="302" r="1.42" fill="none" stroke="#6a4fa0" stroke-width="0.9"/>
<circle cx="61.62" cy="302.6" r="1.42" fill="none" stroke="#6a4fa0" stroke-width="0.9"/>
<circle cx="68.36" cy="302.6" r="1.42" fill="none" stroke="#6a4fa0" stroke-width="0.9"/>
<circle cx="75.11" cy="302.6" r="1.42" fill="none" stroke="#6a4fa0" stroke-width="0.9"/>
<circle cx="81.85" cy="302.6" r="1.42" fill="none" stroke="#6a4fa0" stroke-width="0.9"/>
<circle cx="88.6" cy="302.6" r="1.42" fill="none" stroke="#6a4fa0" stroke-width="0.9"/>
<circle cx="95.34" cy="302.6" r="1.42" fill="none" stroke="#6a4fa0" stroke-width="0.9"/>
<circle cx="102.08" cy="302.6" r="1.42" fill="none" stroke="#6a4fa0" stroke-width="0.9"/>
<circle cx="108.83" cy="302.6" r="1.42" fill="none" stroke="#6a4fa0" stroke-width="0.9"/>
<circle cx="124.25" cy="302.6" r="1.42" fill="none" stroke="#6a4fa0" stroke-width="0.9"/>
<circle cx="130.82" cy="302.6" r="1.42" fill="none" stroke="#6a4fa0" stroke-width="0.9"/>
<circle cx="137.39" cy="302.6" r="1.42" fill="none" stroke="#6a4fa0" stroke-width="0.9"/>
<circle cx="143.96" cy="302.6" r="1.42" fill="none" stroke="#6a4fa0" stroke-width="0.9"/>
<circle cx="150.53" cy="302.6" r="1.42" fill="none" stroke="#6a4fa0" stroke-width="0.9"/>
<circle cx="157.09" cy="302.6" r="1.42" fill="none" stroke="#6a4fa0" stroke-width="0.9"/>
<circle cx="163.66" cy="302.6" r="1.42" fill="none" stroke="#6a4fa0" stroke-width="0.9"/>
<circle cx="170.23" cy="302.6" r="1.42" fill="none" stroke="#6a4fa0" stroke-width="0.9"/>
<circle cx="176.8" cy="302.6" r="1.42" fill="none" stroke="#6a4fa0" stroke-width="0.9"/>
<circle cx="183.36" cy="302.6" r="1.42" fill="none" stroke="#6a4fa0" stroke-width="0.9"/>
<circle cx="189.93" cy="302.6" r="1.42" fill="none" stroke="#6a4fa0" stroke-width="0.9"/>
<circle cx="196.5" cy="302.6" r="1.42" fill="none" stroke="#6a4fa0" stroke-width="0.9"/>
<path d="M27.9 221.1L43.4 228.3L57.8 236.5L74.2 246.8L86.5 252.9L93.4 255.8L96.8 262.5L101.3 269.3L112.5 273.8L123.8 278.3L135 280.6L157.6 282.2L180.2 283.3L196.5 284.6" fill="none" stroke="#ff8a8a" stroke-width="0.6" stroke-dasharray="9,5.5,3,5.5"/>
</g>
<path d="M27.5 199.4H196.9M27.5 331.6H196.9" stroke="#9c9c9c" stroke-width="0.9" fill="none"/>
<path d="M27.9 199.85V331.15M196.5 199.85V331.15" stroke="#c6c6c6" stroke-width="1.1" fill="none"/>
<path d="M27.9 331.6v-1.8M27.9 199.4v1.8M70.05 331.6v-1.8M70.05 199.4v1.8M112.2 331.6v-1.8M112.2 199.4v1.8M154.35 331.6v-1.8M154.35 199.4v1.8M196.5 331.6v-1.8M196.5 199.4v1.8M27.9 331.6h1.8M196.5 331.6h-1.8M27.9 287.53h1.8M196.5 287.53h-1.8M27.9 243.47h1.8M196.5 243.47h-1.8M27.9 199.4h1.8M196.5 199.4h-1.8" stroke="#ababab" stroke-width="0.7" fill="none"/>
<g font-size="5.05" fill="#2a2a2a" stroke="#2a2a2a" stroke-width="0.0">
<text transform="matrix(1 0 0 1.15 28.3 337.7)" text-anchor="middle">0</text>
<text transform="matrix(1 0 0 1.15 70.45 337.7)" text-anchor="middle">0.5</text>
<text transform="matrix(1 0 0 1.15 112.6 337.7)" text-anchor="middle">1</text>
<text transform="matrix(1 0 0 1.15 154.75 337.7)" text-anchor="middle">1.5</text>
<text transform="matrix(1 0 0 1.15 196.9 337.7)" text-anchor="middle">2</text>
<text transform="matrix(1 0 0 1.15 26.1 333.49)" text-anchor="end">-5</text>
<text transform="matrix(1 0 0 1.15 26.1 289.42)" text-anchor="end">0</text>
<text transform="matrix(1 0 0 1.15 26.1 245.36)" text-anchor="end">5</text>
<text transform="matrix(1 0 0 1.15 26.1 201.29)" text-anchor="end">10</text>
<text x="195" y="346.4" text-anchor="end">x 10</text>
<text x="195.5" y="343.1" font-size="3.43">4</text>
<text x="111.8" y="344.52" text-anchor="middle" fill="#111" stroke="#111" stroke-width="0.04" font-size="4.9">evaluation number</text>
<text transform="translate(16.62 268.2) scale(1 1) rotate(-90)" text-anchor="middle" fill="#111" stroke="#111" stroke-width="0.04" font-size="5.05">objective function value(Log10 )</text>
</g>
<rect x="149.6" y="201.7" width="45.2" height="74.7" fill="#fff"/>
<path d="M149.2 201.7H195.2M149.2 276.4H195.2" stroke="#a4a4a4" stroke-width="0.8" fill="none"/>
<path d="M149.6 202.1V276M194.8 202.1V276" stroke="#c4c4c4" stroke-width="1" fill="none"/>
<path d="M152.8 206.5H167.7" stroke="#7878ff" stroke-opacity="0.75" stroke-width="1.1"/>
<path d="M160.3 203.92L161.83 206L160.3 208.08L158.77 206Z" fill="none" stroke="#4848ff" stroke-width="0.6"/>
<text x="169.4" y="207.82" font-size="5.05" fill="#000" stroke="#000" stroke-width="0.1">HMS=5</text>
<path d="M152.8 213.5H167.7" stroke="#6ab46a" stroke-opacity="0.75" stroke-width="0.8"/>
<circle cx="160.3" cy="213.3" r="1.17" fill="#3c963c" fill-opacity="0.5" stroke="#3c963c" stroke-width="0.55"/>
<text x="169.4" y="215.12" font-size="5.05" fill="#000" stroke="#000" stroke-width="0.1">HMS=10</text>
<path d="M152.8 220.5H167.7" stroke="#ff7a7a" stroke-opacity="0.75" stroke-width="0.8"/>
<path d="M160.3 218.61L162.11 221.95L158.5 221.95Z" fill="none" stroke="#ff4a4a" stroke-width="0.6"/>
<text x="169.4" y="222.42" font-size="5.05" fill="#000" stroke="#000" stroke-width="0.1">HMS=20</text>
<path d="M152.8 227.5H167.7" stroke="#6ad8d0" stroke-opacity="0.75" stroke-width="1.2"/>
<path d="M158.31 227.9L161.65 226.09L161.65 229.71Z" fill="none" stroke="#36c4c0" stroke-width="0.6"/>
<text x="169.4" y="229.72" font-size="5.05" fill="#000" stroke="#000" stroke-width="0.1">HMS=40</text>
<path d="M152.8 235.5H167.7" stroke="#dc6edc" stroke-opacity="0.75" stroke-width="0.8"/>
<path d="M162.29 235.2L158.95 233.39L158.95 237Z" fill="none" stroke="#d548d5" stroke-width="0.6"/>
<text x="169.4" y="237.02" font-size="5.05" fill="#000" stroke="#000" stroke-width="0.1">HMS=80</text>
<path d="M152.8 242.5H167.7" stroke="#cdcd5a" stroke-opacity="0.75" stroke-width="0.8"/>
<circle cx="160.3" cy="242.5" r="1.8" fill="none" stroke="#bcbc3a" stroke-width="0.6"/>
<text x="169.4" y="244.32" font-size="5.05" fill="#000" stroke="#000" stroke-width="0.1">HMS=100</text>
<path d="M152.8 249.5H167.7" stroke="#a8a8a8" stroke-opacity="0.75" stroke-width="1.3"/>

<text x="169.4" y="251.62" font-size="5.05" fill="#000" stroke="#000" stroke-width="0.1">HMS=120</text>
<path d="M152.8 257.5H167.7" stroke="#8484ff" stroke-opacity="0.75" stroke-width="0.8"/>
<rect x="158.5" y="255.3" width="3.61" height="3.61" rx="0.6" fill="none" stroke="#6060ff" stroke-width="0.6"/>
<text x="169.4" y="258.92" font-size="5.05" fill="#000" stroke="#000" stroke-width="0.1">HMS=150</text>
<path d="M152.8 264.5H167.7" stroke="#4aa04a" stroke-opacity="0.75" stroke-width="0.8"/>
<circle cx="160.3" cy="264.4" r="1" fill="#2a8a2a"/>
<text x="169.4" y="266.22" font-size="5.05" fill="#000" stroke="#000" stroke-width="0.1">HMS=200</text>
<path d="M152.8 271.5H167.7" stroke="#ff8a8a" stroke-opacity="0.75" stroke-width="0.8" stroke-dasharray="9,5.5,3,5.5"/>

<text x="169.4" y="273.52" font-size="5.05" fill="#000" stroke="#000" stroke-width="0.1">HMS=500</text>
<text x="108.5" y="368.1" text-anchor="middle" font-family="Liberation Serif, serif" font-weight="bold" font-size="11.8" fill="#111">(g)</text>
<clipPath id="ch"><rect x="299.3" y="191.1" width="187" height="148.2"/></clipPath>
<g clip-path="url(#ch)">
<path d="M302.3 222.54L309.54 226.18L316.78 229.82L324.02 233.46L331.26 237.1L338.5 240.74L345.74 244.38L352.98 248.02L360.22 251.66L367.46 255.3L374.7 258.94L381.94 262.58L389.18 266.22L405.74 269.86L412.79 273.5L419.84 277.14L426.89 280.79L433.94 284.43L441 288.07L448.05 291.71L455.1 295.35L462.15 298.99L469.2 302.63L476.25 306.27L483.3 309.91" fill="none" stroke="#7878ff" stroke-width="0.6"/>
<path d="M302.3 220.35L303.92 222.54L302.3 224.72L300.69 222.54Z" fill="none" stroke="#4848ff" stroke-width="0.6"/>
<path d="M309.54 224L311.16 226.18L309.54 228.37L307.93 226.18Z" fill="none" stroke="#4848ff" stroke-width="0.6"/>
<path d="M316.78 227.64L318.4 229.82L316.78 232.01L315.17 229.82Z" fill="none" stroke="#4848ff" stroke-width="0.6"/>
<path d="M324.02 231.28L325.63 233.46L324.02 235.65L322.4 233.46Z" fill="none" stroke="#4848ff" stroke-width="0.6"/>
<path d="M331.26 234.92L332.88 237.1L331.26 239.29L329.64 237.1Z" fill="none" stroke="#4848ff" stroke-width="0.6"/>
<path d="M338.5 238.56L340.12 240.74L338.5 242.93L336.88 240.74Z" fill="none" stroke="#4848ff" stroke-width="0.6"/>
<path d="M345.74 242.2L347.36 244.38L345.74 246.57L344.12 244.38Z" fill="none" stroke="#4848ff" stroke-width="0.6"/>
<path d="M352.98 245.84L354.6 248.02L352.98 250.21L351.37 248.02Z" fill="none" stroke="#4848ff" stroke-width="0.6"/>
<path d="M360.22 249.48L361.84 251.66L360.22 253.85L358.61 251.66Z" fill="none" stroke="#4848ff" stroke-width="0.6"/>
<path d="M367.46 253.12L369.08 255.3L367.46 257.49L365.85 255.3Z" fill="none" stroke="#4848ff" stroke-width="0.6"/>
<path d="M374.7 256.76L376.32 258.94L374.7 261.13L373.09 258.94Z" fill="none" stroke="#4848ff" stroke-width="0.6"/>
<path d="M381.94 260.4L383.56 262.58L381.94 264.77L380.32 262.58Z" fill="none" stroke="#4848ff" stroke-width="0.6"/>
<path d="M389.18 264.04L390.8 266.22L389.18 268.41L387.56 266.22Z" fill="none" stroke="#4848ff" stroke-width="0.6"/>
<path d="M405.74 267.68L407.36 269.86L405.74 272.05L404.13 269.86Z" fill="none" stroke="#4848ff" stroke-width="0.6"/>
<path d="M412.79 271.32L414.41 273.5L412.79 275.69L411.18 273.5Z" fill="none" stroke="#4848ff" stroke-width="0.6"/>
<path d="M419.84 274.96L421.46 277.14L419.84 279.33L418.23 277.14Z" fill="none" stroke="#4848ff" stroke-width="0.6"/>
<path d="M426.89 278.6L428.51 280.79L426.89 282.97L425.28 280.79Z" fill="none" stroke="#4848ff" stroke-width="0.6"/>
<path d="M433.94 282.24L435.56 284.43L433.94 286.61L432.33 284.43Z" fill="none" stroke="#4848ff" stroke-width="0.6"/>
<path d="M441 285.88L442.61 288.07L441 290.25L439.38 288.07Z" fill="none" stroke="#4848ff" stroke-width="0.6"/>
<path d="M448.05 289.52L449.66 291.71L448.05 293.89L446.43 291.71Z" fill="none" stroke="#4848ff" stroke-width="0.6"/>
<path d="M455.1 293.16L456.71 295.35L455.1 297.53L453.48 295.35Z" fill="none" stroke="#4848ff" stroke-width="0.6"/>
<path d="M462.15 296.8L463.76 298.99L462.15 301.17L460.53 298.99Z" fill="none" stroke="#4848ff" stroke-width="0.6"/>
<path d="M469.2 300.44L470.81 302.63L469.2 304.81L467.58 302.63Z" fill="none" stroke="#4848ff" stroke-width="0.6"/>
<path d="M476.25 304.08L477.86 306.27L476.25 308.45L474.63 306.27Z" fill="none" stroke="#4848ff" stroke-width="0.6"/>
<path d="M483.3 307.72L484.92 309.91L483.3 312.09L481.69 309.91Z" fill="none" stroke="#4848ff" stroke-width="0.6"/>
<path d="M302.3 222.54L309.54 224.64L316.78 226.75L324.02 228.85L331.26 230.96L338.5 233.06L345.74 235.17L352.98 237.27L360.22 239.38L367.46 241.48L374.7 243.59L381.94 245.69L389.18 247.79L405.74 249.9L412.79 252L419.84 254.11L426.89 256.21L433.94 258.32L441 260.42L448.05 262.53L455.1 264.63L462.15 266.74L469.2 268.84L476.25 270.94L483.3 273.05" fill="none" stroke="#6ab46a" stroke-width="0.6"/>
<circle cx="302.3" cy="222.54" r="1.61" fill="#8fcf8f" stroke="#3c963c" stroke-width="0.6"/>
<circle cx="309.54" cy="224.64" r="1.61" fill="#8fcf8f" stroke="#3c963c" stroke-width="0.6"/>
<circle cx="316.78" cy="226.75" r="1.61" fill="#8fcf8f" stroke="#3c963c" stroke-width="0.6"/>
<circle cx="324.02" cy="228.85" r="1.61" fill="#8fcf8f" stroke="#3c963c" stroke-width="0.6"/>
<circle cx="331.26" cy="230.96" r="1.61" fill="#8fcf8f" stroke="#3c963c" stroke-width="0.6"/>
<circle cx="338.5" cy="233.06" r="1.61" fill="#8fcf8f" stroke="#3c963c" stroke-width="0.6"/>
<circle cx="345.74" cy="235.17" r="1.61" fill="#8fcf8f" stroke="#3c963c" stroke-width="0.6"/>
<circle cx="352.98" cy="237.27" r="1.61" fill="#8fcf8f" stroke="#3c963c" stroke-width="0.6"/>
<circle cx="360.22" cy="239.38" r="1.61" fill="#8fcf8f" stroke="#3c963c" stroke-width="0.6"/>
<circle cx="367.46" cy="241.48" r="1.61" fill="#8fcf8f" stroke="#3c963c" stroke-width="0.6"/>
<circle cx="374.7" cy="243.59" r="1.61" fill="#8fcf8f" stroke="#3c963c" stroke-width="0.6"/>
<circle cx="381.94" cy="245.69" r="1.61" fill="#8fcf8f" stroke="#3c963c" stroke-width="0.6"/>
<circle cx="389.18" cy="247.79" r="1.61" fill="#8fcf8f" stroke="#3c963c" stroke-width="0.6"/>
<circle cx="405.74" cy="249.9" r="1.61" fill="#8fcf8f" stroke="#3c963c" stroke-width="0.6"/>
<circle cx="412.79" cy="252" r="1.61" fill="#8fcf8f" stroke="#3c963c" stroke-width="0.6"/>
<circle cx="419.84" cy="254.11" r="1.61" fill="#8fcf8f" stroke="#3c963c" stroke-width="0.6"/>
<circle cx="426.89" cy="256.21" r="1.61" fill="#8fcf8f" stroke="#3c963c" stroke-width="0.6"/>
<circle cx="433.94" cy="258.32" r="1.61" fill="#8fcf8f" stroke="#3c963c" stroke-width="0.6"/>
<circle cx="441" cy="260.42" r="1.61" fill="#8fcf8f" stroke="#3c963c" stroke-width="0.6"/>
<circle cx="448.05" cy="262.53" r="1.61" fill="#8fcf8f" stroke="#3c963c" stroke-width="0.6"/>
<circle cx="455.1" cy="264.63" r="1.61" fill="#8fcf8f" stroke="#3c963c" stroke-width="0.6"/>
<circle cx="462.15" cy="266.74" r="1.61" fill="#8fcf8f" stroke="#3c963c" stroke-width="0.6"/>
<circle cx="469.2" cy="268.84" r="1.61" fill="#8fcf8f" stroke="#3c963c" stroke-width="0.6"/>
<circle cx="476.25" cy="270.94" r="1.61" fill="#8fcf8f" stroke="#3c963c" stroke-width="0.6"/>
<circle cx="483.3" cy="273.05" r="1.61" fill="#8fcf8f" stroke="#3c963c" stroke-width="0.6"/>
<path d="M302.3 222.54L309.54 223.59L316.78 224.64L324.02 225.7L331.26 226.75L338.5 227.8L345.74 228.85L352.98 229.91L360.22 230.96L367.46 232.01L374.7 233.06L381.94 234.12L389.18 235.17L405.74 236.22L412.79 237.27L419.84 238.32L426.89 239.38L433.94 240.43L441 241.48L448.05 242.53L455.1 243.59L462.15 244.64L469.2 245.69L476.25 246.74L483.3 247.79" fill="none" stroke="#ff7a7a" stroke-width="0.6"/>
<path d="M302.3 220.45L304.2 223.97L300.4 223.97Z" fill="none" stroke="#ff4a4a" stroke-width="0.6"/>
<path d="M309.54 221.5L311.44 225.02L307.64 225.02Z" fill="none" stroke="#ff4a4a" stroke-width="0.6"/>
<path d="M316.78 222.55L318.68 226.07L314.88 226.07Z" fill="none" stroke="#ff4a4a" stroke-width="0.6"/>
<path d="M324.02 223.61L325.92 227.12L322.12 227.12Z" fill="none" stroke="#ff4a4a" stroke-width="0.6"/>
<path d="M331.26 224.66L333.16 228.17L329.36 228.17Z" fill="none" stroke="#ff4a4a" stroke-width="0.6"/>
<path d="M338.5 225.71L340.4 229.23L336.6 229.23Z" fill="none" stroke="#ff4a4a" stroke-width="0.6"/>
<path d="M345.74 226.76L347.64 230.28L343.84 230.28Z" fill="none" stroke="#ff4a4a" stroke-width="0.6"/>
<path d="M352.98 227.82L354.88 231.33L351.08 231.33Z" fill="none" stroke="#ff4a4a" stroke-width="0.6"/>
<path d="M360.22 228.87L362.12 232.38L358.32 232.38Z" fill="none" stroke="#ff4a4a" stroke-width="0.6"/>
<path d="M367.46 229.92L369.36 233.44L365.56 233.44Z" fill="none" stroke="#ff4a4a" stroke-width="0.6"/>
<path d="M374.7 230.97L376.6 234.49L372.8 234.49Z" fill="none" stroke="#ff4a4a" stroke-width="0.6"/>
<path d="M381.94 232.03L383.84 235.54L380.04 235.54Z" fill="none" stroke="#ff4a4a" stroke-width="0.6"/>
<path d="M389.18 233.08L391.08 236.59L387.28 236.59Z" fill="none" stroke="#ff4a4a" stroke-width="0.6"/>
<path d="M405.74 234.13L407.64 237.64L403.84 237.64Z" fill="none" stroke="#ff4a4a" stroke-width="0.6"/>
<path d="M412.79 235.18L414.69 238.7L410.89 238.7Z" fill="none" stroke="#ff4a4a" stroke-width="0.6"/>
<path d="M419.84 236.23L421.74 239.75L417.94 239.75Z" fill="none" stroke="#ff4a4a" stroke-width="0.6"/>
<path d="M426.89 237.29L428.79 240.8L424.99 240.8Z" fill="none" stroke="#ff4a4a" stroke-width="0.6"/>
<path d="M433.94 238.34L435.84 241.85L432.04 241.85Z" fill="none" stroke="#ff4a4a" stroke-width="0.6"/>
<path d="M441 239.39L442.9 242.91L439.1 242.91Z" fill="none" stroke="#ff4a4a" stroke-width="0.6"/>
<path d="M448.05 240.44L449.95 243.96L446.15 243.96Z" fill="none" stroke="#ff4a4a" stroke-width="0.6"/>
<path d="M455.1 241.5L457 245.01L453.2 245.01Z" fill="none" stroke="#ff4a4a" stroke-width="0.6"/>
<path d="M462.15 242.55L464.05 246.06L460.25 246.06Z" fill="none" stroke="#ff4a4a" stroke-width="0.6"/>
<path d="M469.2 243.6L471.1 247.12L467.3 247.12Z" fill="none" stroke="#ff4a4a" stroke-width="0.6"/>
<path d="M476.25 244.65L478.15 248.17L474.35 248.17Z" fill="none" stroke="#ff4a4a" stroke-width="0.6"/>
<path d="M483.3 245.7L485.2 249.22L481.4 249.22Z" fill="none" stroke="#ff4a4a" stroke-width="0.6"/>
<path d="M302.3 222.54L309.54 222.69L316.78 222.84L324.02 222.98L331.26 223.13L338.5 223.28L345.74 223.43L352.98 223.58L360.22 223.72L367.46 223.87L374.7 224.02L381.94 224.17L389.18 224.32L405.74 224.47L412.79 224.61L419.84 224.76L426.89 224.91L433.94 225.06L441 225.21L448.05 225.35L455.1 225.5L462.15 225.65L469.2 225.8L476.25 225.95L483.3 226.09" fill="none" stroke="#6ad8d0" stroke-width="0.6"/>
<path d="M300.21 222.54L303.73 220.64L303.73 224.44Z" fill="none" stroke="#36c4c0" stroke-width="0.6"/>
<path d="M307.45 222.69L310.97 220.79L310.97 224.59Z" fill="none" stroke="#36c4c0" stroke-width="0.6"/>
<path d="M314.69 222.84L318.21 220.94L318.21 224.74Z" fill="none" stroke="#36c4c0" stroke-width="0.6"/>
<path d="M321.93 222.98L325.44 221.08L325.44 224.88Z" fill="none" stroke="#36c4c0" stroke-width="0.6"/>
<path d="M329.17 223.13L332.69 221.23L332.69 225.03Z" fill="none" stroke="#36c4c0" stroke-width="0.6"/>
<path d="M336.41 223.28L339.93 221.38L339.93 225.18Z" fill="none" stroke="#36c4c0" stroke-width="0.6"/>
<path d="M343.65 223.43L347.17 221.53L347.17 225.33Z" fill="none" stroke="#36c4c0" stroke-width="0.6"/>
<path d="M350.89 223.58L354.41 221.68L354.41 225.48Z" fill="none" stroke="#36c4c0" stroke-width="0.6"/>
<path d="M358.13 223.72L361.65 221.82L361.65 225.62Z" fill="none" stroke="#36c4c0" stroke-width="0.6"/>
<path d="M365.37 223.87L368.89 221.97L368.89 225.77Z" fill="none" stroke="#36c4c0" stroke-width="0.6"/>
<path d="M372.61 224.02L376.13 222.12L376.13 225.92Z" fill="none" stroke="#36c4c0" stroke-width="0.6"/>
<path d="M379.85 224.17L383.37 222.27L383.37 226.07Z" fill="none" stroke="#36c4c0" stroke-width="0.6"/>
<path d="M387.09 224.32L390.61 222.42L390.61 226.22Z" fill="none" stroke="#36c4c0" stroke-width="0.6"/>
<path d="M403.65 224.47L407.17 222.57L407.17 226.37Z" fill="none" stroke="#36c4c0" stroke-width="0.6"/>
<path d="M410.7 224.61L414.22 222.71L414.22 226.51Z" fill="none" stroke="#36c4c0" stroke-width="0.6"/>
<path d="M417.75 224.76L421.27 222.86L421.27 226.66Z" fill="none" stroke="#36c4c0" stroke-width="0.6"/>
<path d="M424.8 224.91L428.32 223.01L428.32 226.81Z" fill="none" stroke="#36c4c0" stroke-width="0.6"/>
<path d="M431.85 225.06L435.37 223.16L435.37 226.96Z" fill="none" stroke="#36c4c0" stroke-width="0.6"/>
<path d="M438.91 225.21L442.42 223.31L442.42 227.11Z" fill="none" stroke="#36c4c0" stroke-width="0.6"/>
<path d="M445.96 225.35L449.47 223.45L449.47 227.25Z" fill="none" stroke="#36c4c0" stroke-width="0.6"/>
<path d="M453.01 225.5L456.52 223.6L456.52 227.4Z" fill="none" stroke="#36c4c0" stroke-width="0.6"/>
<path d="M460.06 225.65L463.57 223.75L463.57 227.55Z" fill="none" stroke="#36c4c0" stroke-width="0.6"/>
<path d="M467.11 225.8L470.62 223.9L470.62 227.7Z" fill="none" stroke="#36c4c0" stroke-width="0.6"/>
<path d="M474.16 225.95L477.67 224.05L477.67 227.85Z" fill="none" stroke="#36c4c0" stroke-width="0.6"/>
<path d="M481.21 226.09L484.73 224.19L484.73 228Z" fill="none" stroke="#36c4c0" stroke-width="0.6"/>
<path d="M302.3 222.54L309.54 222.94L316.78 223.34L324.02 223.75L331.26 224.15L338.5 224.55L345.74 224.95L352.98 225.36L360.22 225.76L367.46 226.16L374.7 226.56L381.94 226.97L389.18 227.37L405.74 227.77L412.79 228.17L419.84 228.58L426.89 228.98L433.94 229.38L441 229.78L448.05 230.19L455.1 230.59L462.15 230.99L469.2 231.39L476.25 231.8L483.3 232.2" fill="none" stroke="#dc6edc" stroke-width="0.6"/>
<path d="M304.39 222.54L300.88 220.64L300.88 224.44Z" fill="none" stroke="#d548d5" stroke-width="0.6"/>
<path d="M311.63 222.94L308.12 221.04L308.12 224.84Z" fill="none" stroke="#d548d5" stroke-width="0.6"/>
<path d="M318.87 223.34L315.36 221.44L315.36 225.24Z" fill="none" stroke="#d548d5" stroke-width="0.6"/>
<path d="M326.11 223.75L322.59 221.85L322.59 225.65Z" fill="none" stroke="#d548d5" stroke-width="0.6"/>
<path d="M333.35 224.15L329.83 222.25L329.83 226.05Z" fill="none" stroke="#d548d5" stroke-width="0.6"/>
<path d="M340.59 224.55L337.07 222.65L337.07 226.45Z" fill="none" stroke="#d548d5" stroke-width="0.6"/>
<path d="M347.83 224.95L344.31 223.05L344.31 226.85Z" fill="none" stroke="#d548d5" stroke-width="0.6"/>
<path d="M355.07 225.36L351.56 223.46L351.56 227.26Z" fill="none" stroke="#d548d5" stroke-width="0.6"/>
<path d="M362.31 225.76L358.8 223.86L358.8 227.66Z" fill="none" stroke="#d548d5" stroke-width="0.6"/>
<path d="M369.55 226.16L366.04 224.26L366.04 228.06Z" fill="none" stroke="#d548d5" stroke-width="0.6"/>
<path d="M376.79 226.56L373.28 224.66L373.28 228.46Z" fill="none" stroke="#d548d5" stroke-width="0.6"/>
<path d="M384.03 226.97L380.51 225.07L380.51 228.87Z" fill="none" stroke="#d548d5" stroke-width="0.6"/>
<path d="M391.27 227.37L387.75 225.47L387.75 229.27Z" fill="none" stroke="#d548d5" stroke-width="0.6"/>
<path d="M407.83 227.77L404.32 225.87L404.32 229.67Z" fill="none" stroke="#d548d5" stroke-width="0.6"/>
<path d="M414.88 228.17L411.37 226.27L411.37 230.07Z" fill="none" stroke="#d548d5" stroke-width="0.6"/>
<path d="M421.93 228.58L418.42 226.68L418.42 230.48Z" fill="none" stroke="#d548d5" stroke-width="0.6"/>
<path d="M428.98 228.98L425.47 227.08L425.47 230.88Z" fill="none" stroke="#d548d5" stroke-width="0.6"/>
<path d="M436.03 229.38L432.52 227.48L432.52 231.28Z" fill="none" stroke="#d548d5" stroke-width="0.6"/>
<path d="M443.09 229.78L439.57 227.88L439.57 231.68Z" fill="none" stroke="#d548d5" stroke-width="0.6"/>
<path d="M450.14 230.19L446.62 228.29L446.62 232.09Z" fill="none" stroke="#d548d5" stroke-width="0.6"/>
<path d="M457.19 230.59L453.67 228.69L453.67 232.49Z" fill="none" stroke="#d548d5" stroke-width="0.6"/>
<path d="M464.24 230.99L460.72 229.09L460.72 232.89Z" fill="none" stroke="#d548d5" stroke-width="0.6"/>
<path d="M471.29 231.39L467.77 229.49L467.77 233.29Z" fill="none" stroke="#d548d5" stroke-width="0.6"/>
<path d="M478.34 231.8L474.82 229.9L474.82 233.7Z" fill="none" stroke="#d548d5" stroke-width="0.6"/>
<path d="M485.39 232.2L481.88 230.3L481.88 234.1Z" fill="none" stroke="#d548d5" stroke-width="0.6"/>
<path d="M302.3 222.54L309.54 222.73L316.78 222.92L324.02 223.11L331.26 223.3L338.5 223.49L345.74 223.68L352.98 223.87L360.22 224.06L367.46 224.25L374.7 224.44L381.94 224.63L389.18 224.82L405.74 225L412.79 225.19L419.84 225.38L426.89 225.57L433.94 225.76L441 225.95L448.05 226.14L455.1 226.33L462.15 226.52L469.2 226.71L476.25 226.9L483.3 227.09" fill="none" stroke="#cdcd5a" stroke-width="0.6"/>
<circle cx="302.3" cy="222.54" r="1.9" fill="none" stroke="#bcbc3a" stroke-width="0.6"/>
<circle cx="309.54" cy="222.73" r="1.9" fill="none" stroke="#bcbc3a" stroke-width="0.6"/>
<circle cx="316.78" cy="222.92" r="1.9" fill="none" stroke="#bcbc3a" stroke-width="0.6"/>
<circle cx="324.02" cy="223.11" r="1.9" fill="none" stroke="#bcbc3a" stroke-width="0.6"/>
<circle cx="331.26" cy="223.3" r="1.9" fill="none" stroke="#bcbc3a" stroke-width="0.6"/>
<circle cx="338.5" cy="223.49" r="1.9" fill="none" stroke="#bcbc3a" stroke-width="0.6"/>
<circle cx="345.74" cy="223.68" r="1.9" fill="none" stroke="#bcbc3a" stroke-width="0.6"/>
<circle cx="352.98" cy="223.87" r="1.9" fill="none" stroke="#bcbc3a" stroke-width="0.6"/>
<circle cx="360.22" cy="224.06" r="1.9" fill="none" stroke="#bcbc3a" stroke-width="0.6"/>
<circle cx="367.46" cy="224.25" r="1.9" fill="none" stroke="#bcbc3a" stroke-width="0.6"/>
<circle cx="374.7" cy="224.44" r="1.9" fill="none" stroke="#bcbc3a" stroke-width="0.6"/>
<circle cx="381.94" cy="224.63" r="1.9" fill="none" stroke="#bcbc3a" stroke-width="0.6"/>
<circle cx="389.18" cy="224.82" r="1.9" fill="none" stroke="#bcbc3a" stroke-width="0.6"/>
<circle cx="405.74" cy="225" r="1.9" fill="none" stroke="#bcbc3a" stroke-width="0.6"/>
<circle cx="412.79" cy="225.19" r="1.9" fill="none" stroke="#bcbc3a" stroke-width="0.6"/>
<circle cx="419.84" cy="225.38" r="1.9" fill="none" stroke="#bcbc3a" stroke-width="0.6"/>
<circle cx="426.89" cy="225.57" r="1.9" fill="none" stroke="#bcbc3a" stroke-width="0.6"/>
<circle cx="433.94" cy="225.76" r="1.9" fill="none" stroke="#bcbc3a" stroke-width="0.6"/>
<circle cx="441" cy="225.95" r="1.9" fill="none" stroke="#bcbc3a" stroke-width="0.6"/>
<circle cx="448.05" cy="226.14" r="1.9" fill="none" stroke="#bcbc3a" stroke-width="0.6"/>
<circle cx="455.1" cy="226.33" r="1.9" fill="none" stroke="#bcbc3a" stroke-width="0.6"/>
<circle cx="462.15" cy="226.52" r="1.9" fill="none" stroke="#bcbc3a" stroke-width="0.6"/>
<circle cx="469.2" cy="226.71" r="1.9" fill="none" stroke="#bcbc3a" stroke-width="0.6"/>
<circle cx="476.25" cy="226.9" r="1.9" fill="none" stroke="#bcbc3a" stroke-width="0.6"/>
<circle cx="483.3" cy="227.09" r="1.9" fill="none" stroke="#bcbc3a" stroke-width="0.6"/>
<path d="M302.3 222.54L483.3 224.82" fill="none" stroke="#a8a8a8" stroke-width="0.6"/>
<path d="M302.3 222.54L309.54 222.62L316.78 222.71L324.02 222.79L331.26 222.87L338.5 222.95L345.74 223.04L352.98 223.12L360.22 223.2L367.46 223.29L374.7 223.37L381.94 223.45L389.18 223.54L405.74 223.62L412.79 223.7L419.84 223.78L426.89 223.87L433.94 223.95L441 224.03L448.05 224.12L455.1 224.2L462.15 224.28L469.2 224.36L476.25 224.45L483.3 224.53" fill="none" stroke="#8484ff" stroke-width="1.6"/>
<rect x="300.4" y="220.64" width="3.8" height="3.8" rx="0.6" fill="none" stroke="#6060ff" stroke-width="0.6"/>
<rect x="307.64" y="220.72" width="3.8" height="3.8" rx="0.6" fill="none" stroke="#6060ff" stroke-width="0.6"/>
<rect x="314.88" y="220.81" width="3.8" height="3.8" rx="0.6" fill="none" stroke="#6060ff" stroke-width="0.6"/>
<rect x="322.12" y="220.89" width="3.8" height="3.8" rx="0.6" fill="none" stroke="#6060ff" stroke-width="0.6"/>
<rect x="329.36" y="220.97" width="3.8" height="3.8" rx="0.6" fill="none" stroke="#6060ff" stroke-width="0.6"/>
<rect x="336.6" y="221.05" width="3.8" height="3.8" rx="0.6" fill="none" stroke="#6060ff" stroke-width="0.6"/>
<rect x="343.84" y="221.14" width="3.8" height="3.8" rx="0.6" fill="none" stroke="#6060ff" stroke-width="0.6"/>
<rect x="351.08" y="221.22" width="3.8" height="3.8" rx="0.6" fill="none" stroke="#6060ff" stroke-width="0.6"/>
<rect x="358.32" y="221.3" width="3.8" height="3.8" rx="0.6" fill="none" stroke="#6060ff" stroke-width="0.6"/>
<rect x="365.56" y="221.39" width="3.8" height="3.8" rx="0.6" fill="none" stroke="#6060ff" stroke-width="0.6"/>
<rect x="372.8" y="221.47" width="3.8" height="3.8" rx="0.6" fill="none" stroke="#6060ff" stroke-width="0.6"/>
<rect x="380.04" y="221.55" width="3.8" height="3.8" rx="0.6" fill="none" stroke="#6060ff" stroke-width="0.6"/>
<rect x="387.28" y="221.64" width="3.8" height="3.8" rx="0.6" fill="none" stroke="#6060ff" stroke-width="0.6"/>
<rect x="403.84" y="221.72" width="3.8" height="3.8" rx="0.6" fill="none" stroke="#6060ff" stroke-width="0.6"/>
<rect x="410.89" y="221.8" width="3.8" height="3.8" rx="0.6" fill="none" stroke="#6060ff" stroke-width="0.6"/>
<rect x="417.94" y="221.88" width="3.8" height="3.8" rx="0.6" fill="none" stroke="#6060ff" stroke-width="0.6"/>
<rect x="424.99" y="221.97" width="3.8" height="3.8" rx="0.6" fill="none" stroke="#6060ff" stroke-width="0.6"/>
<rect x="432.04" y="222.05" width="3.8" height="3.8" rx="0.6" fill="none" stroke="#6060ff" stroke-width="0.6"/>
<rect x="439.1" y="222.13" width="3.8" height="3.8" rx="0.6" fill="none" stroke="#6060ff" stroke-width="0.6"/>
<rect x="446.15" y="222.22" width="3.8" height="3.8" rx="0.6" fill="none" stroke="#6060ff" stroke-width="0.6"/>
<rect x="453.2" y="222.3" width="3.8" height="3.8" rx="0.6" fill="none" stroke="#6060ff" stroke-width="0.6"/>
<rect x="460.25" y="222.38" width="3.8" height="3.8" rx="0.6" fill="none" stroke="#6060ff" stroke-width="0.6"/>
<rect x="467.3" y="222.46" width="3.8" height="3.8" rx="0.6" fill="none" stroke="#6060ff" stroke-width="0.6"/>
<rect x="474.35" y="222.55" width="3.8" height="3.8" rx="0.6" fill="none" stroke="#6060ff" stroke-width="0.6"/>
<rect x="481.4" y="222.63" width="3.8" height="3.8" rx="0.6" fill="none" stroke="#6060ff" stroke-width="0.6"/>
<path d="M302.3 222.54L309.54 222.62L316.78 222.71L324.02 222.79L331.26 222.87L338.5 222.95L345.74 223.04L352.98 223.12L360.22 223.2L367.46 223.29L374.7 223.37L381.94 223.45L389.18 223.54L405.74 223.62L412.79 223.7L419.84 223.78L426.89 223.87L433.94 223.95L441 224.03L448.05 224.12L455.1 224.2L462.15 224.28L469.2 224.36L476.25 224.45L483.3 224.53" fill="none" stroke="#4aa04a" stroke-width="0.6"/>
<circle cx="302.3" cy="222.54" r="1.05" fill="#2a8a2a"/>
<circle cx="309.54" cy="222.62" r="1.05" fill="#2a8a2a"/>
<circle cx="316.78" cy="222.71" r="1.05" fill="#2a8a2a"/>
<circle cx="324.02" cy="222.79" r="1.05" fill="#2a8a2a"/>
<circle cx="331.26" cy="222.87" r="1.05" fill="#2a8a2a"/>
<circle cx="338.5" cy="222.95" r="1.05" fill="#2a8a2a"/>
<circle cx="345.74" cy="223.04" r="1.05" fill="#2a8a2a"/>
<circle cx="352.98" cy="223.12" r="1.05" fill="#2a8a2a"/>
<circle cx="360.22" cy="223.2" r="1.05" fill="#2a8a2a"/>
<circle cx="367.46" cy="223.29" r="1.05" fill="#2a8a2a"/>
<circle cx="374.7" cy="223.37" r="1.05" fill="#2a8a2a"/>
<circle cx="381.94" cy="223.45" r="1.05" fill="#2a8a2a"/>
<circle cx="389.18" cy="223.54" r="1.05" fill="#2a8a2a"/>
<circle cx="405.74" cy="223.62" r="1.05" fill="#2a8a2a"/>
<circle cx="412.79" cy="223.7" r="1.05" fill="#2a8a2a"/>
<circle cx="419.84" cy="223.78" r="1.05" fill="#2a8a2a"/>
<circle cx="426.89" cy="223.87" r="1.05" fill="#2a8a2a"/>
<circle cx="433.94" cy="223.95" r="1.05" fill="#2a8a2a"/>
<circle cx="441" cy="224.03" r="1.05" fill="#2a8a2a"/>
<circle cx="448.05" cy="224.12" r="1.05" fill="#2a8a2a"/>
<circle cx="455.1" cy="224.2" r="1.05" fill="#2a8a2a"/>
<circle cx="462.15" cy="224.28" r="1.05" fill="#2a8a2a"/>
<circle cx="469.2" cy="224.36" r="1.05" fill="#2a8a2a"/>
<circle cx="476.25" cy="224.45" r="1.05" fill="#2a8a2a"/>
<circle cx="483.3" cy="224.53" r="1.05" fill="#2a8a2a"/>
<path d="M302.3 222.54L483.3 221.12" fill="none" stroke="#ff8a8a" stroke-width="0.6" stroke-dasharray="9,5.5,3,5.5"/>
</g>
<path d="M301.9 194.1H483.7M301.9 336.3H483.7" stroke="#9c9c9c" stroke-width="0.9" fill="none"/>
<path d="M302.3 194.55V335.85M483.3 194.55V335.85" stroke="#c6c6c6" stroke-width="1.1" fill="none"/>
<path d="M302.3 336.3v-1.8M302.3 194.1v1.8M347.55 336.3v-1.8M347.55 194.1v1.8M392.8 336.3v-1.8M392.8 194.1v1.8M438.05 336.3v-1.8M438.05 194.1v1.8M483.3 336.3v-1.8M483.3 194.1v1.8M302.3 336.3h1.8M483.3 336.3h-1.8M302.3 307.86h1.8M483.3 307.86h-1.8M302.3 279.42h1.8M483.3 279.42h-1.8M302.3 250.98h1.8M483.3 250.98h-1.8M302.3 222.54h1.8M483.3 222.54h-1.8M302.3 194.1h1.8M483.3 194.1h-1.8" stroke="#ababab" stroke-width="0.7" fill="none"/>
<g font-size="5.45" fill="#000" stroke="#000" stroke-width="0.1">
<text transform="matrix(1 0 0 1.15 302.7 342.8)" text-anchor="middle">0</text>
<text transform="matrix(1 0 0 1.15 347.95 342.8)" text-anchor="middle">0.5</text>
<text transform="matrix(1 0 0 1.15 393.2 342.8)" text-anchor="middle">1</text>
<text transform="matrix(1 0 0 1.15 438.45 342.8)" text-anchor="middle">1.5</text>
<text transform="matrix(1 0 0 1.15 483.7 342.8)" text-anchor="middle">2</text>
<text transform="matrix(1 0 0 1.15 300.5 337.96)" text-anchor="end">-80</text>
<text transform="matrix(1 0 0 1.15 300.5 309.52)" text-anchor="end">-60</text>
<text transform="matrix(1 0 0 1.15 300.5 281.08)" text-anchor="end">-40</text>
<text transform="matrix(1 0 0 1.15 300.5 252.64)" text-anchor="end">-20</text>
<text transform="matrix(1 0 0 1.15 300.5 224.2)" text-anchor="end">0</text>
<text transform="matrix(1 0 0 1.15 300.5 195.76)" text-anchor="end">20</text>
<text x="481.8" y="353.1" text-anchor="end">x 10</text>
<text x="482.3" y="349.8" font-size="3.71">4</text>
<text x="392.7" y="349.96" text-anchor="middle" fill="#111" stroke="#111" stroke-width="0.0" font-size="5.2">evaluation number</text>
<text transform="translate(290.05 266.4) scale(1.2 1) rotate(-90)" text-anchor="middle" fill="#111" stroke="#111" stroke-width="0.0" font-size="5.45">objective function value(Log10 )</text>
</g>
<rect x="305" y="253.2" width="48.5" height="80.5" fill="#fff"/>
<path d="M304.6 253.2H353.9M304.6 333.7H353.9" stroke="#a4a4a4" stroke-width="0.8" fill="none"/>
<path d="M305 253.6V333.3M353.5 253.6V333.3" stroke="#c4c4c4" stroke-width="1" fill="none"/>
<path d="M306.8 258.5H324" stroke="#7878ff" stroke-opacity="0.75" stroke-width="0.8"/>
<path d="M316.5 256.12L318.12 258.3L316.5 260.49L314.88 258.3Z" fill="none" stroke="#4848ff" stroke-width="0.6"/>
<text transform="matrix(1 0 0 1.2 326.8 260.65)" font-size="5.45" fill="#000" stroke="#000" stroke-width="0.18">HMS=5</text>
<path d="M306.8 266.5H324" stroke="#6ab46a" stroke-opacity="0.75" stroke-width="0.8"/>
<circle cx="316.5" cy="266.11" r="1.61" fill="#8fcf8f" stroke="#3c963c" stroke-width="0.6"/>
<text transform="matrix(1 0 0 1.2 326.8 268.46)" font-size="5.45" fill="#000" stroke="#000" stroke-width="0.18">HMS=10</text>
<path d="M306.8 273.5H324" stroke="#ff7a7a" stroke-opacity="0.75" stroke-width="0.8"/>
<path d="M316.5 271.83L318.4 275.35L314.6 275.35Z" fill="none" stroke="#ff4a4a" stroke-width="0.6"/>
<text transform="matrix(1 0 0 1.2 326.8 276.27)" font-size="5.45" fill="#000" stroke="#000" stroke-width="0.18">HMS=20</text>
<path d="M306.8 281.5H324" stroke="#6ad8d0" stroke-opacity="0.75" stroke-width="0.8"/>
<path d="M314.41 281.73L317.93 279.83L317.93 283.63Z" fill="none" stroke="#36c4c0" stroke-width="0.6"/>
<text transform="matrix(1 0 0 1.2 326.8 284.08)" font-size="5.45" fill="#000" stroke="#000" stroke-width="0.18">HMS=40</text>
<path d="M306.8 289.5H324" stroke="#dc6edc" stroke-opacity="0.75" stroke-width="0.8"/>
<path d="M318.59 289.54L315.07 287.64L315.07 291.44Z" fill="none" stroke="#d548d5" stroke-width="0.6"/>
<text transform="matrix(1 0 0 1.2 326.8 291.89)" font-size="5.45" fill="#000" stroke="#000" stroke-width="0.18">HMS=80</text>
<path d="M306.8 297.5H324" stroke="#cdcd5a" stroke-opacity="0.75" stroke-width="0.8"/>
<circle cx="316.5" cy="297.35" r="1.9" fill="none" stroke="#bcbc3a" stroke-width="0.6"/>
<text transform="matrix(1 0 0 1.2 326.8 299.7)" font-size="5.45" fill="#000" stroke="#000" stroke-width="0.18">HMS=100</text>
<path d="M306.8 305.5H324" stroke="#a8a8a8" stroke-opacity="0.75" stroke-width="0.8"/>

<text transform="matrix(1 0 0 1.2 326.8 307.51)" font-size="5.45" fill="#000" stroke="#000" stroke-width="0.18">HMS=120</text>
<path d="M306.8 312.5H324" stroke="#8484ff" stroke-opacity="0.75" stroke-width="1.6"/>
<rect x="314.6" y="311.07" width="3.8" height="3.8" rx="0.6" fill="none" stroke="#6060ff" stroke-width="0.6"/>
<text transform="matrix(1 0 0 1.2 326.8 315.32)" font-size="5.45" fill="#000" stroke="#000" stroke-width="0.18">HMS=150</text>
<path d="M306.8 320.5H324" stroke="#4aa04a" stroke-opacity="0.75" stroke-width="0.8"/>
<circle cx="316.5" cy="320.78" r="1.05" fill="#2a8a2a"/>
<text transform="matrix(1 0 0 1.2 326.8 323.13)" font-size="5.45" fill="#000" stroke="#000" stroke-width="0.18">HMS=200</text>
<path d="M306.8 328.5H324" stroke="#ff8a8a" stroke-opacity="0.75" stroke-width="0.8" stroke-dasharray="9,5.5,3,5.5"/>

<text transform="matrix(1 0 0 1.2 326.8 330.94)" font-size="5.45" fill="#000" stroke="#000" stroke-width="0.18">HMS=500</text>
<text x="388.8" y="367.7" text-anchor="middle" font-family="Liberation Serif, serif" font-weight="bold" font-size="11.8" fill="#111">(h)</text>
<clipPath id="ci"><rect x="167.4" y="379.4" width="174.1" height="137.9"/></clipPath>
<g clip-path="url(#ci)">
<path d="M170.4 416.9L177.12 418.6L183.85 419.8L190.57 421.8L197.3 428.4L204.02 428.8L210.74 429.8L217.47 432L224.19 448.2L230.92 449.5L237.64 451.7L244.36 452.8L251.09 454.7L266.47 456.9L273.02 457.8L279.57 465.2L286.11 465.2L292.66 465.2L299.21 468L305.76 469.5L312.31 473L318.86 470.9L325.4 481.1L331.95 484.8L338.5 498.2" fill="none" stroke="#7878ff" stroke-width="0.6"/>
<path d="M170.4 414.82L171.93 416.9L170.4 418.98L168.87 416.9Z" fill="none" stroke="#4848ff" stroke-width="0.6"/>
<path d="M177.12 416.52L178.66 418.6L177.12 420.68L175.59 418.6Z" fill="none" stroke="#4848ff" stroke-width="0.6"/>
<path d="M183.85 417.72L185.38 419.8L183.85 421.88L182.31 419.8Z" fill="none" stroke="#4848ff" stroke-width="0.6"/>
<path d="M190.57 419.72L192.11 421.8L190.57 423.88L189.04 421.8Z" fill="none" stroke="#4848ff" stroke-width="0.6"/>
<path d="M197.3 426.32L198.83 428.4L197.3 430.48L195.76 428.4Z" fill="none" stroke="#4848ff" stroke-width="0.6"/>
<path d="M204.02 426.72L205.55 428.8L204.02 430.88L202.49 428.8Z" fill="none" stroke="#4848ff" stroke-width="0.6"/>
<path d="M210.74 427.72L212.28 429.8L210.74 431.88L209.21 429.8Z" fill="none" stroke="#4848ff" stroke-width="0.6"/>
<path d="M217.47 429.92L219 432L217.47 434.08L215.93 432Z" fill="none" stroke="#4848ff" stroke-width="0.6"/>
<path d="M224.19 446.12L225.73 448.2L224.19 450.28L222.66 448.2Z" fill="none" stroke="#4848ff" stroke-width="0.6"/>
<path d="M230.92 447.42L232.45 449.5L230.92 451.58L229.38 449.5Z" fill="none" stroke="#4848ff" stroke-width="0.6"/>
<path d="M237.64 449.62L239.17 451.7L237.64 453.78L236.11 451.7Z" fill="none" stroke="#4848ff" stroke-width="0.6"/>
<path d="M244.36 450.72L245.9 452.8L244.36 454.88L242.83 452.8Z" fill="none" stroke="#4848ff" stroke-width="0.6"/>
<path d="M251.09 452.62L252.62 454.7L251.09 456.78L249.55 454.7Z" fill="none" stroke="#4848ff" stroke-width="0.6"/>
<path d="M266.47 454.82L268 456.9L266.47 458.98L264.93 456.9Z" fill="none" stroke="#4848ff" stroke-width="0.6"/>
<path d="M273.02 455.72L274.55 457.8L273.02 459.88L271.48 457.8Z" fill="none" stroke="#4848ff" stroke-width="0.6"/>
<path d="M279.57 463.12L281.1 465.2L279.57 467.28L278.03 465.2Z" fill="none" stroke="#4848ff" stroke-width="0.6"/>
<path d="M286.11 463.12L287.65 465.2L286.11 467.28L284.58 465.2Z" fill="none" stroke="#4848ff" stroke-width="0.6"/>
<path d="M292.66 463.12L294.2 465.2L292.66 467.28L291.13 465.2Z" fill="none" stroke="#4848ff" stroke-width="0.6"/>
<path d="M299.21 465.92L300.74 468L299.21 470.08L297.68 468Z" fill="none" stroke="#4848ff" stroke-width="0.6"/>
<path d="M305.76 467.42L307.29 469.5L305.76 471.58L304.22 469.5Z" fill="none" stroke="#4848ff" stroke-width="0.6"/>
<path d="M312.31 470.92L313.84 473L312.31 475.08L310.77 473Z" fill="none" stroke="#4848ff" stroke-width="0.6"/>
<path d="M318.86 468.82L320.39 470.9L318.86 472.98L317.32 470.9Z" fill="none" stroke="#4848ff" stroke-width="0.6"/>
<path d="M325.4 479.02L326.94 481.1L325.4 483.18L323.87 481.1Z" fill="none" stroke="#4848ff" stroke-width="0.6"/>
<path d="M331.95 482.72L333.49 484.8L331.95 486.88L330.42 484.8Z" fill="none" stroke="#4848ff" stroke-width="0.6"/>
<path d="M338.5 496.12L340.03 498.2L338.5 500.28L336.97 498.2Z" fill="none" stroke="#4848ff" stroke-width="0.6"/>
<path d="M170.4 416.9L177.12 418.6L183.85 419.8L190.57 421.8L197.3 428.4L204.02 428.8L210.74 429.8L217.47 432L224.19 434.8L230.92 436.6L237.64 443.4L244.36 443.4L251.09 443.4L266.47 448.6L273.02 451.7L279.57 451.7L286.11 451.7L292.66 451.7L299.21 463.4L305.76 463.3L312.31 463.3L318.86 463.3L325.4 464.8L331.95 466.4L338.5 468" fill="none" stroke="#6ab46a" stroke-width="0.6"/>
<circle cx="170.4" cy="416.9" r="1.17" fill="#3c963c" fill-opacity="0.5" stroke="#3c963c" stroke-width="0.55"/>
<circle cx="177.12" cy="418.6" r="1.17" fill="#3c963c" fill-opacity="0.5" stroke="#3c963c" stroke-width="0.55"/>
<circle cx="183.85" cy="419.8" r="1.17" fill="#3c963c" fill-opacity="0.5" stroke="#3c963c" stroke-width="0.55"/>
<circle cx="190.57" cy="421.8" r="1.17" fill="#3c963c" fill-opacity="0.5" stroke="#3c963c" stroke-width="0.55"/>
<circle cx="197.3" cy="428.4" r="1.17" fill="#3c963c" fill-opacity="0.5" stroke="#3c963c" stroke-width="0.55"/>
<circle cx="204.02" cy="428.8" r="1.17" fill="#3c963c" fill-opacity="0.5" stroke="#3c963c" stroke-width="0.55"/>
<circle cx="210.74" cy="429.8" r="1.17" fill="#3c963c" fill-opacity="0.5" stroke="#3c963c" stroke-width="0.55"/>
<circle cx="217.47" cy="432" r="1.17" fill="#3c963c" fill-opacity="0.5" stroke="#3c963c" stroke-width="0.55"/>
<circle cx="224.19" cy="434.8" r="1.17" fill="#3c963c" fill-opacity="0.5" stroke="#3c963c" stroke-width="0.55"/>
<circle cx="230.92" cy="436.6" r="1.17" fill="#3c963c" fill-opacity="0.5" stroke="#3c963c" stroke-width="0.55"/>
<circle cx="237.64" cy="443.4" r="1.17" fill="#3c963c" fill-opacity="0.5" stroke="#3c963c" stroke-width="0.55"/>
<circle cx="244.36" cy="443.4" r="1.17" fill="#3c963c" fill-opacity="0.5" stroke="#3c963c" stroke-width="0.55"/>
<circle cx="251.09" cy="443.4" r="1.17" fill="#3c963c" fill-opacity="0.5" stroke="#3c963c" stroke-width="0.55"/>
<circle cx="266.47" cy="448.6" r="1.17" fill="#3c963c" fill-opacity="0.5" stroke="#3c963c" stroke-width="0.55"/>
<circle cx="273.02" cy="451.7" r="1.17" fill="#3c963c" fill-opacity="0.5" stroke="#3c963c" stroke-width="0.55"/>
<circle cx="279.57" cy="451.7" r="1.17" fill="#3c963c" fill-opacity="0.5" stroke="#3c963c" stroke-width="0.55"/>
<circle cx="286.11" cy="451.7" r="1.17" fill="#3c963c" fill-opacity="0.5" stroke="#3c963c" stroke-width="0.55"/>
<circle cx="292.66" cy="451.7" r="1.17" fill="#3c963c" fill-opacity="0.5" stroke="#3c963c" stroke-width="0.55"/>
<circle cx="299.21" cy="463.4" r="1.17" fill="#3c963c" fill-opacity="0.5" stroke="#3c963c" stroke-width="0.55"/>
<circle cx="305.76" cy="463.3" r="1.17" fill="#3c963c" fill-opacity="0.5" stroke="#3c963c" stroke-width="0.55"/>
<circle cx="312.31" cy="463.3" r="1.17" fill="#3c963c" fill-opacity="0.5" stroke="#3c963c" stroke-width="0.55"/>
<circle cx="318.86" cy="463.3" r="1.17" fill="#3c963c" fill-opacity="0.5" stroke="#3c963c" stroke-width="0.55"/>
<circle cx="325.4" cy="464.8" r="1.17" fill="#3c963c" fill-opacity="0.5" stroke="#3c963c" stroke-width="0.55"/>
<circle cx="331.95" cy="466.4" r="1.17" fill="#3c963c" fill-opacity="0.5" stroke="#3c963c" stroke-width="0.55"/>
<circle cx="338.5" cy="468" r="1.17" fill="#3c963c" fill-opacity="0.5" stroke="#3c963c" stroke-width="0.55"/>
<path d="M170.4 411.7L177.12 411.94L183.85 412.17L190.57 412.41L197.3 412.64L204.02 412.88L210.74 413.11L217.47 413.35L224.19 413.59L230.92 413.82L237.64 414.06L244.36 414.29L251.09 414.55L266.47 415.47L273.02 415.87L279.57 416.26L286.11 416.65L292.66 417.05L299.21 419.94L305.76 420.33L312.31 420.73L318.86 418.62L325.4 419.01L331.95 419.41L338.5 419.8" fill="none" stroke="#ff7a7a" stroke-width="0.6"/>
<path d="M170.4 409.71L172.21 413.05L168.59 413.05Z" fill="none" stroke="#ff4a4a" stroke-width="0.6"/>
<path d="M177.12 409.95L178.93 413.29L175.32 413.29Z" fill="none" stroke="#ff4a4a" stroke-width="0.6"/>
<path d="M183.85 410.19L185.65 413.53L182.04 413.53Z" fill="none" stroke="#ff4a4a" stroke-width="0.6"/>
<path d="M190.57 410.42L192.38 413.76L188.77 413.76Z" fill="none" stroke="#ff4a4a" stroke-width="0.6"/>
<path d="M197.3 410.66L199.1 414L195.49 414Z" fill="none" stroke="#ff4a4a" stroke-width="0.6"/>
<path d="M204.02 410.89L205.83 414.23L202.22 414.23Z" fill="none" stroke="#ff4a4a" stroke-width="0.6"/>
<path d="M210.74 411.13L212.55 414.47L208.94 414.47Z" fill="none" stroke="#ff4a4a" stroke-width="0.6"/>
<path d="M217.47 411.37L219.27 414.7L215.66 414.7Z" fill="none" stroke="#ff4a4a" stroke-width="0.6"/>
<path d="M224.19 411.6L226 414.94L222.39 414.94Z" fill="none" stroke="#ff4a4a" stroke-width="0.6"/>
<path d="M230.92 411.84L232.72 415.18L229.11 415.18Z" fill="none" stroke="#ff4a4a" stroke-width="0.6"/>
<path d="M237.64 412.07L239.44 415.41L235.83 415.41Z" fill="none" stroke="#ff4a4a" stroke-width="0.6"/>
<path d="M244.36 412.31L246.17 415.65L242.56 415.65Z" fill="none" stroke="#ff4a4a" stroke-width="0.6"/>
<path d="M251.09 412.56L252.89 415.9L249.28 415.9Z" fill="none" stroke="#ff4a4a" stroke-width="0.6"/>
<path d="M266.47 413.49L268.27 416.83L264.66 416.83Z" fill="none" stroke="#ff4a4a" stroke-width="0.6"/>
<path d="M273.02 413.88L274.82 417.22L271.21 417.22Z" fill="none" stroke="#ff4a4a" stroke-width="0.6"/>
<path d="M279.57 414.28L281.37 417.61L277.76 417.61Z" fill="none" stroke="#ff4a4a" stroke-width="0.6"/>
<path d="M286.11 414.67L287.92 418.01L284.31 418.01Z" fill="none" stroke="#ff4a4a" stroke-width="0.6"/>
<path d="M292.66 415.06L294.47 418.4L290.86 418.4Z" fill="none" stroke="#ff4a4a" stroke-width="0.6"/>
<path d="M299.21 417.95L301.02 421.29L297.41 421.29Z" fill="none" stroke="#ff4a4a" stroke-width="0.6"/>
<path d="M305.76 418.35L307.56 421.69L303.95 421.69Z" fill="none" stroke="#ff4a4a" stroke-width="0.6"/>
<path d="M312.31 418.74L314.11 422.08L310.5 422.08Z" fill="none" stroke="#ff4a4a" stroke-width="0.6"/>
<path d="M318.86 416.63L320.66 419.97L317.05 419.97Z" fill="none" stroke="#ff4a4a" stroke-width="0.6"/>
<path d="M325.4 417.03L327.21 420.37L323.6 420.37Z" fill="none" stroke="#ff4a4a" stroke-width="0.6"/>
<path d="M331.95 417.42L333.76 420.76L330.15 420.76Z" fill="none" stroke="#ff4a4a" stroke-width="0.6"/>
<path d="M338.5 417.81L340.31 421.15L336.69 421.15Z" fill="none" stroke="#ff4a4a" stroke-width="0.6"/>
<path d="M170.4 411.7L177.12 411.92L183.85 412.14L190.57 412.36L197.3 412.58L204.02 412.79L210.74 413.01L217.47 413.23L224.19 413.45L230.92 413.67L237.64 413.89L244.36 414.11L251.09 414.31L266.47 414.52L273.02 414.61L279.57 414.7L286.11 414.79L292.66 414.88L299.21 414.97L305.76 415.05L312.31 415.14L318.86 415.23L325.4 415.32L331.95 415.41L338.5 415.5" fill="none" stroke="#6ad8d0" stroke-width="0.6"/>
<path d="M168.41 411.7L171.75 409.89L171.75 413.5Z" fill="none" stroke="#36c4c0" stroke-width="0.6"/>
<path d="M175.14 411.92L178.48 410.11L178.48 413.72Z" fill="none" stroke="#36c4c0" stroke-width="0.6"/>
<path d="M181.86 412.14L185.2 410.33L185.2 413.94Z" fill="none" stroke="#36c4c0" stroke-width="0.6"/>
<path d="M188.59 412.36L191.93 410.55L191.93 414.16Z" fill="none" stroke="#36c4c0" stroke-width="0.6"/>
<path d="M195.31 412.58L198.65 410.77L198.65 414.38Z" fill="none" stroke="#36c4c0" stroke-width="0.6"/>
<path d="M202.03 412.79L205.37 410.99L205.37 414.6Z" fill="none" stroke="#36c4c0" stroke-width="0.6"/>
<path d="M208.76 413.01L212.1 411.21L212.1 414.82Z" fill="none" stroke="#36c4c0" stroke-width="0.6"/>
<path d="M215.48 413.23L218.82 411.43L218.82 415.04Z" fill="none" stroke="#36c4c0" stroke-width="0.6"/>
<path d="M222.21 413.45L225.55 411.65L225.55 415.26Z" fill="none" stroke="#36c4c0" stroke-width="0.6"/>
<path d="M228.93 413.67L232.27 411.87L232.27 415.48Z" fill="none" stroke="#36c4c0" stroke-width="0.6"/>
<path d="M235.65 413.89L238.99 412.08L238.99 415.69Z" fill="none" stroke="#36c4c0" stroke-width="0.6"/>
<path d="M242.38 414.11L245.72 412.3L245.72 415.91Z" fill="none" stroke="#36c4c0" stroke-width="0.6"/>
<path d="M249.1 414.31L252.44 412.51L252.44 416.12Z" fill="none" stroke="#36c4c0" stroke-width="0.6"/>
<path d="M264.48 414.52L267.82 412.72L267.82 416.33Z" fill="none" stroke="#36c4c0" stroke-width="0.6"/>
<path d="M271.03 414.61L274.37 412.8L274.37 416.41Z" fill="none" stroke="#36c4c0" stroke-width="0.6"/>
<path d="M277.58 414.7L280.92 412.89L280.92 416.5Z" fill="none" stroke="#36c4c0" stroke-width="0.6"/>
<path d="M284.13 414.79L287.47 412.98L287.47 416.59Z" fill="none" stroke="#36c4c0" stroke-width="0.6"/>
<path d="M290.68 414.88L294.02 413.07L294.02 416.68Z" fill="none" stroke="#36c4c0" stroke-width="0.6"/>
<path d="M297.22 414.97L300.56 413.16L300.56 416.77Z" fill="none" stroke="#36c4c0" stroke-width="0.6"/>
<path d="M303.77 415.05L307.11 413.25L307.11 416.86Z" fill="none" stroke="#36c4c0" stroke-width="0.6"/>
<path d="M310.32 415.14L313.66 413.34L313.66 416.95Z" fill="none" stroke="#36c4c0" stroke-width="0.6"/>
<path d="M316.87 415.23L320.21 413.43L320.21 417.04Z" fill="none" stroke="#36c4c0" stroke-width="0.6"/>
<path d="M323.42 415.32L326.76 413.52L326.76 417.13Z" fill="none" stroke="#36c4c0" stroke-width="0.6"/>
<path d="M329.97 415.41L333.31 413.61L333.31 417.22Z" fill="none" stroke="#36c4c0" stroke-width="0.6"/>
<path d="M336.51 415.5L339.85 413.69L339.85 417.31Z" fill="none" stroke="#36c4c0" stroke-width="0.6"/>
<path d="M170.4 411.7L177.12 411.94L183.85 412.17L190.57 412.41L197.3 412.64L204.02 412.88L210.74 413.11L217.47 413.35L224.19 413.59L230.92 413.82L237.64 414.06L244.36 414.29L251.09 414.55L266.47 415.47L273.02 415.87L279.57 416.26L286.11 416.65L292.66 417.05L299.21 417.44L305.76 417.83L312.31 418.23L318.86 418.62L325.4 419.01L331.95 419.41L338.5 419.8" fill="none" stroke="#dc6edc" stroke-width="0.6"/>
<path d="M172.39 411.7L169.05 409.89L169.05 413.5Z" fill="none" stroke="#d548d5" stroke-width="0.6"/>
<path d="M179.11 411.94L175.77 410.13L175.77 413.74Z" fill="none" stroke="#d548d5" stroke-width="0.6"/>
<path d="M185.83 412.17L182.49 410.37L182.49 413.98Z" fill="none" stroke="#d548d5" stroke-width="0.6"/>
<path d="M192.56 412.41L189.22 410.6L189.22 414.21Z" fill="none" stroke="#d548d5" stroke-width="0.6"/>
<path d="M199.28 412.64L195.94 410.84L195.94 414.45Z" fill="none" stroke="#d548d5" stroke-width="0.6"/>
<path d="M206.01 412.88L202.67 411.07L202.67 414.68Z" fill="none" stroke="#d548d5" stroke-width="0.6"/>
<path d="M212.73 413.11L209.39 411.31L209.39 414.92Z" fill="none" stroke="#d548d5" stroke-width="0.6"/>
<path d="M219.45 413.35L216.11 411.55L216.11 415.16Z" fill="none" stroke="#d548d5" stroke-width="0.6"/>
<path d="M226.18 413.59L222.84 411.78L222.84 415.39Z" fill="none" stroke="#d548d5" stroke-width="0.6"/>
<path d="M232.9 413.82L229.56 412.02L229.56 415.63Z" fill="none" stroke="#d548d5" stroke-width="0.6"/>
<path d="M239.63 414.06L236.29 412.25L236.29 415.86Z" fill="none" stroke="#d548d5" stroke-width="0.6"/>
<path d="M246.35 414.29L243.01 412.49L243.01 416.1Z" fill="none" stroke="#d548d5" stroke-width="0.6"/>
<path d="M253.07 414.55L249.73 412.75L249.73 416.36Z" fill="none" stroke="#d548d5" stroke-width="0.6"/>
<path d="M268.45 415.47L265.12 413.67L265.12 417.28Z" fill="none" stroke="#d548d5" stroke-width="0.6"/>
<path d="M275 415.87L271.66 414.06L271.66 417.67Z" fill="none" stroke="#d548d5" stroke-width="0.6"/>
<path d="M281.55 416.26L278.21 414.46L278.21 418.07Z" fill="none" stroke="#d548d5" stroke-width="0.6"/>
<path d="M288.1 416.65L284.76 414.85L284.76 418.46Z" fill="none" stroke="#d548d5" stroke-width="0.6"/>
<path d="M294.65 417.05L291.31 415.24L291.31 418.85Z" fill="none" stroke="#d548d5" stroke-width="0.6"/>
<path d="M301.2 417.44L297.86 415.64L297.86 419.25Z" fill="none" stroke="#d548d5" stroke-width="0.6"/>
<path d="M307.74 417.83L304.4 416.03L304.4 419.64Z" fill="none" stroke="#d548d5" stroke-width="0.6"/>
<path d="M314.29 418.23L310.95 416.42L310.95 420.03Z" fill="none" stroke="#d548d5" stroke-width="0.6"/>
<path d="M320.84 418.62L317.5 416.82L317.5 420.43Z" fill="none" stroke="#d548d5" stroke-width="0.6"/>
<path d="M327.39 419.01L324.05 417.21L324.05 420.82Z" fill="none" stroke="#d548d5" stroke-width="0.6"/>
<path d="M333.94 419.41L330.6 417.6L330.6 421.21Z" fill="none" stroke="#d548d5" stroke-width="0.6"/>
<path d="M340.49 419.8L337.15 418L337.15 421.61Z" fill="none" stroke="#d548d5" stroke-width="0.6"/>
<path d="M170.4 411.7L177.12 411.94L183.85 412.17L190.57 412.41L197.3 412.64L204.02 412.88L210.74 413.11L217.47 413.35L224.19 413.59L230.92 413.82L237.64 414.06L244.36 414.29L251.09 414.55L266.47 415.47L273.02 415.87L279.57 416.26L286.11 416.65L292.66 417.05L299.21 417.44L305.76 417.83L312.31 418.23L318.86 418.62L325.4 419.01L331.95 419.41L338.5 419.8" fill="none" stroke="#cdcd5a" stroke-width="0.6"/>
<circle cx="170.4" cy="411.7" r="1.8" fill="none" stroke="#bcbc3a" stroke-width="0.6"/>
<circle cx="177.12" cy="411.94" r="1.8" fill="none" stroke="#bcbc3a" stroke-width="0.6"/>
<circle cx="183.85" cy="412.17" r="1.8" fill="none" stroke="#bcbc3a" stroke-width="0.6"/>
<circle cx="190.57" cy="412.41" r="1.8" fill="none" stroke="#bcbc3a" stroke-width="0.6"/>
<circle cx="197.3" cy="412.64" r="1.8" fill="none" stroke="#bcbc3a" stroke-width="0.6"/>
<circle cx="204.02" cy="412.88" r="1.8" fill="none" stroke="#bcbc3a" stroke-width="0.6"/>
<circle cx="210.74" cy="413.11" r="1.8" fill="none" stroke="#bcbc3a" stroke-width="0.6"/>
<circle cx="217.47" cy="413.35" r="1.8" fill="none" stroke="#bcbc3a" stroke-width="0.6"/>
<circle cx="224.19" cy="413.59" r="1.8" fill="none" stroke="#bcbc3a" stroke-width="0.6"/>
<circle cx="230.92" cy="413.82" r="1.8" fill="none" stroke="#bcbc3a" stroke-width="0.6"/>
<circle cx="237.64" cy="414.06" r="1.8" fill="none" stroke="#bcbc3a" stroke-width="0.6"/>
<circle cx="244.36" cy="414.29" r="1.8" fill="none" stroke="#bcbc3a" stroke-width="0.6"/>
<circle cx="251.09" cy="414.55" r="1.8" fill="none" stroke="#bcbc3a" stroke-width="0.6"/>
<circle cx="266.47" cy="415.47" r="1.8" fill="none" stroke="#bcbc3a" stroke-width="0.6"/>
<circle cx="273.02" cy="415.87" r="1.8" fill="none" stroke="#bcbc3a" stroke-width="0.6"/>
<circle cx="279.57" cy="416.26" r="1.8" fill="none" stroke="#bcbc3a" stroke-width="0.6"/>
<circle cx="286.11" cy="416.65" r="1.8" fill="none" stroke="#bcbc3a" stroke-width="0.6"/>
<circle cx="292.66" cy="417.05" r="1.8" fill="none" stroke="#bcbc3a" stroke-width="0.6"/>
<circle cx="299.21" cy="417.44" r="1.8" fill="none" stroke="#bcbc3a" stroke-width="0.6"/>
<circle cx="305.76" cy="417.83" r="1.8" fill="none" stroke="#bcbc3a" stroke-width="0.6"/>
<circle cx="312.31" cy="418.23" r="1.8" fill="none" stroke="#bcbc3a" stroke-width="0.6"/>
<circle cx="318.86" cy="418.62" r="1.8" fill="none" stroke="#bcbc3a" stroke-width="0.6"/>
<circle cx="325.4" cy="419.01" r="1.8" fill="none" stroke="#bcbc3a" stroke-width="0.6"/>
<circle cx="331.95" cy="419.41" r="1.8" fill="none" stroke="#bcbc3a" stroke-width="0.6"/>
<circle cx="338.5" cy="419.8" r="1.8" fill="none" stroke="#bcbc3a" stroke-width="0.6"/>
<path d="M170.4 411.7L177.12 411.92L183.85 412.14L190.57 412.36L197.3 412.58L204.02 412.79L210.74 413.01L217.47 413.23L224.19 413.45L230.92 413.67L237.64 413.89L244.36 414.11L251.09 414.31L266.47 414.52L273.02 414.61L279.57 414.7L286.11 414.79L292.66 414.88L299.21 414.97L305.76 415.05L312.31 415.14L318.86 415.23L325.4 415.32L331.95 415.41L338.5 415.5" fill="none" stroke="#a8a8a8" stroke-width="0.6"/>
<path d="M170.4 411.7L177.12 411.92L183.85 412.14L190.57 412.36L197.3 412.58L204.02 412.79L210.74 413.01L217.47 413.23L224.19 413.45L230.92 413.67L237.64 413.89L244.36 414.11L251.09 414.31L266.47 414.52L273.02 414.61L279.57 414.7L286.11 414.79L292.66 414.88L299.21 414.97L305.76 415.05L312.31 415.14L318.86 415.23L325.4 415.32L331.95 415.41L338.5 415.5" fill="none" stroke="#8484ff" stroke-width="0.6"/>
<rect x="168.59" y="409.89" width="3.61" height="3.61" rx="0.6" fill="none" stroke="#6060ff" stroke-width="0.6"/>
<rect x="175.32" y="410.11" width="3.61" height="3.61" rx="0.6" fill="none" stroke="#6060ff" stroke-width="0.6"/>
<rect x="182.04" y="410.33" width="3.61" height="3.61" rx="0.6" fill="none" stroke="#6060ff" stroke-width="0.6"/>
<rect x="188.77" y="410.55" width="3.61" height="3.61" rx="0.6" fill="none" stroke="#6060ff" stroke-width="0.6"/>
<rect x="195.49" y="410.77" width="3.61" height="3.61" rx="0.6" fill="none" stroke="#6060ff" stroke-width="0.6"/>
<rect x="202.22" y="410.99" width="3.61" height="3.61" rx="0.6" fill="none" stroke="#6060ff" stroke-width="0.6"/>
<rect x="208.94" y="411.21" width="3.61" height="3.61" rx="0.6" fill="none" stroke="#6060ff" stroke-width="0.6"/>
<rect x="215.66" y="411.43" width="3.61" height="3.61" rx="0.6" fill="none" stroke="#6060ff" stroke-width="0.6"/>
<rect x="222.39" y="411.65" width="3.61" height="3.61" rx="0.6" fill="none" stroke="#6060ff" stroke-width="0.6"/>
<rect x="229.11" y="411.87" width="3.61" height="3.61" rx="0.6" fill="none" stroke="#6060ff" stroke-width="0.6"/>
<rect x="235.83" y="412.08" width="3.61" height="3.61" rx="0.6" fill="none" stroke="#6060ff" stroke-width="0.6"/>
<rect x="242.56" y="412.3" width="3.61" height="3.61" rx="0.6" fill="none" stroke="#6060ff" stroke-width="0.6"/>
<rect x="249.28" y="412.51" width="3.61" height="3.61" rx="0.6" fill="none" stroke="#6060ff" stroke-width="0.6"/>
<rect x="264.66" y="412.72" width="3.61" height="3.61" rx="0.6" fill="none" stroke="#6060ff" stroke-width="0.6"/>
<rect x="271.21" y="412.8" width="3.61" height="3.61" rx="0.6" fill="none" stroke="#6060ff" stroke-width="0.6"/>
<rect x="277.76" y="412.89" width="3.61" height="3.61" rx="0.6" fill="none" stroke="#6060ff" stroke-width="0.6"/>
<rect x="284.31" y="412.98" width="3.61" height="3.61" rx="0.6" fill="none" stroke="#6060ff" stroke-width="0.6"/>
<rect x="290.86" y="413.07" width="3.61" height="3.61" rx="0.6" fill="none" stroke="#6060ff" stroke-width="0.6"/>
<rect x="297.41" y="413.16" width="3.61" height="3.61" rx="0.6" fill="none" stroke="#6060ff" stroke-width="0.6"/>
<rect x="303.95" y="413.25" width="3.61" height="3.61" rx="0.6" fill="none" stroke="#6060ff" stroke-width="0.6"/>
<rect x="310.5" y="413.34" width="3.61" height="3.61" rx="0.6" fill="none" stroke="#6060ff" stroke-width="0.6"/>
<rect x="317.05" y="413.43" width="3.61" height="3.61" rx="0.6" fill="none" stroke="#6060ff" stroke-width="0.6"/>
<rect x="323.6" y="413.52" width="3.61" height="3.61" rx="0.6" fill="none" stroke="#6060ff" stroke-width="0.6"/>
<rect x="330.15" y="413.61" width="3.61" height="3.61" rx="0.6" fill="none" stroke="#6060ff" stroke-width="0.6"/>
<rect x="336.69" y="413.69" width="3.61" height="3.61" rx="0.6" fill="none" stroke="#6060ff" stroke-width="0.6"/>
<path d="M170.4 411.7L177.12 411.92L183.85 412.14L190.57 412.36L197.3 412.58L204.02 412.79L210.74 413.01L217.47 413.23L224.19 413.45L230.92 413.67L237.64 413.89L244.36 414.11L251.09 414.31L266.47 414.52L273.02 414.61L279.57 414.7L286.11 414.79L292.66 414.88L299.21 414.97L305.76 415.05L312.31 415.14L318.86 415.23L325.4 415.32L331.95 415.41L338.5 415.5" fill="none" stroke="#4aa04a" stroke-width="0.6"/>
<circle cx="170.4" cy="411.7" r="1" fill="#2a8a2a"/>
<circle cx="177.12" cy="411.92" r="1" fill="#2a8a2a"/>
<circle cx="183.85" cy="412.14" r="1" fill="#2a8a2a"/>
<circle cx="190.57" cy="412.36" r="1" fill="#2a8a2a"/>
<circle cx="197.3" cy="412.58" r="1" fill="#2a8a2a"/>
<circle cx="204.02" cy="412.79" r="1" fill="#2a8a2a"/>
<circle cx="210.74" cy="413.01" r="1" fill="#2a8a2a"/>
<circle cx="217.47" cy="413.23" r="1" fill="#2a8a2a"/>
<circle cx="224.19" cy="413.45" r="1" fill="#2a8a2a"/>
<circle cx="230.92" cy="413.67" r="1" fill="#2a8a2a"/>
<circle cx="237.64" cy="413.89" r="1" fill="#2a8a2a"/>
<circle cx="244.36" cy="414.11" r="1" fill="#2a8a2a"/>
<circle cx="251.09" cy="414.31" r="1" fill="#2a8a2a"/>
<circle cx="266.47" cy="414.52" r="1" fill="#2a8a2a"/>
<circle cx="273.02" cy="414.61" r="1" fill="#2a8a2a"/>
<circle cx="279.57" cy="414.7" r="1" fill="#2a8a2a"/>
<circle cx="286.11" cy="414.79" r="1" fill="#2a8a2a"/>
<circle cx="292.66" cy="414.88" r="1" fill="#2a8a2a"/>
<circle cx="299.21" cy="414.97" r="1" fill="#2a8a2a"/>
<circle cx="305.76" cy="415.05" r="1" fill="#2a8a2a"/>
<circle cx="312.31" cy="415.14" r="1" fill="#2a8a2a"/>
<circle cx="318.86" cy="415.23" r="1" fill="#2a8a2a"/>
<circle cx="325.4" cy="415.32" r="1" fill="#2a8a2a"/>
<circle cx="331.95" cy="415.41" r="1" fill="#2a8a2a"/>
<circle cx="338.5" cy="415.5" r="1" fill="#2a8a2a"/>
<path d="M170.4 411.7L177.12 411.94L183.85 412.17L190.57 412.41L197.3 412.64L204.02 412.88L210.74 413.11L217.47 413.35L224.19 413.59L230.92 413.82L237.64 414.06L244.36 414.29L251.09 414.55L266.47 415.47L273.02 415.87L279.57 416.26L286.11 416.65L292.66 417.05L299.21 417.44L305.76 417.83L312.31 418.23L318.86 418.62L325.4 419.01L331.95 419.41L338.5 419.8" fill="none" stroke="#ff8a8a" stroke-width="0.6" stroke-dasharray="9,5.5,3,5.5"/>
</g>
<path d="M170 382.4H338.9M170 514.3H338.9" stroke="#9c9c9c" stroke-width="0.9" fill="none"/>
<path d="M170.4 382.85V513.85M338.5 382.85V513.85" stroke="#c6c6c6" stroke-width="1.1" fill="none"/>
<path d="M170.4 514.3v-1.8M170.4 382.4v1.8M212.43 514.3v-1.8M212.43 382.4v1.8M254.45 514.3v-1.8M254.45 382.4v1.8M296.48 514.3v-1.8M296.48 382.4v1.8M338.5 514.3v-1.8M338.5 382.4v1.8M170.4 514.3h1.8M338.5 514.3h-1.8M170.4 481.32h1.8M338.5 481.32h-1.8M170.4 448.35h1.8M338.5 448.35h-1.8M170.4 415.38h1.8M338.5 415.38h-1.8M170.4 382.4h1.8M338.5 382.4h-1.8" stroke="#ababab" stroke-width="0.7" fill="none"/>
<g font-size="5.05" fill="#2a2a2a" stroke="#2a2a2a" stroke-width="0.0">
<text transform="matrix(1 0 0 1.15 170.8 520.1)" text-anchor="middle">0</text>
<text transform="matrix(1 0 0 1.15 212.83 520.1)" text-anchor="middle">0.5</text>
<text transform="matrix(1 0 0 1.15 254.85 520.1)" text-anchor="middle">1</text>
<text transform="matrix(1 0 0 1.15 296.88 520.1)" text-anchor="middle">1.5</text>
<text transform="matrix(1 0 0 1.15 338.9 520.1)" text-anchor="middle">2</text>
<text transform="matrix(1 0 0 1.15 168.6 516.19)" text-anchor="end">2</text>
<text transform="matrix(1 0 0 1.15 168.6 483.22)" text-anchor="end">3</text>
<text transform="matrix(1 0 0 1.15 168.6 450.24)" text-anchor="end">4</text>
<text transform="matrix(1 0 0 1.15 168.6 417.27)" text-anchor="end">5</text>
<text transform="matrix(1 0 0 1.15 168.6 384.29)" text-anchor="end">6</text>
<text x="337" y="529.7" text-anchor="end">x 10</text>
<text x="337.5" y="526.4" font-size="3.43">4</text>
<text x="254" y="527.32" text-anchor="middle" fill="#111" stroke="#111" stroke-width="0.04" font-size="4.95">evaluation number</text>
<text transform="translate(162.82 450) scale(1 1) rotate(-90)" text-anchor="middle" fill="#111" stroke="#111" stroke-width="0.04" font-size="5.05">objective function value(Log10 )</text>
</g>
<rect x="172.5" y="438.2" width="45.1" height="73.7" fill="#fff"/>
<path d="M172.1 438.2H218M172.1 511.9H218" stroke="#a4a4a4" stroke-width="0.8" fill="none"/>
<path d="M172.5 438.6V511.5M217.6 438.6V511.5" stroke="#c4c4c4" stroke-width="1" fill="none"/>
<path d="M175.6 442.5H191" stroke="#7878ff" stroke-opacity="0.75" stroke-width="0.8"/>
<path d="M183.8 440.62L185.33 442.7L183.8 444.78L182.27 442.7Z" fill="none" stroke="#4848ff" stroke-width="0.6"/>
<text x="193" y="444.52" font-size="5.05" fill="#000" stroke="#000" stroke-width="0.1">HMS=5</text>
<path d="M175.6 449.5H191" stroke="#6ab46a" stroke-opacity="0.75" stroke-width="1.2"/>
<circle cx="183.8" cy="449.96" r="1.17" fill="#3c963c" fill-opacity="0.5" stroke="#3c963c" stroke-width="0.55"/>
<text x="193" y="451.78" font-size="5.05" fill="#000" stroke="#000" stroke-width="0.1">HMS=10</text>
<path d="M175.6 457.5H191" stroke="#ff7a7a" stroke-opacity="0.75" stroke-width="1.2"/>
<path d="M183.8 455.23L185.61 458.57L182 458.57Z" fill="none" stroke="#ff4a4a" stroke-width="0.6"/>
<text x="193" y="459.04" font-size="5.05" fill="#000" stroke="#000" stroke-width="0.1">HMS=20</text>
<path d="M175.6 464.5H191" stroke="#6ad8d0" stroke-opacity="0.75" stroke-width="1.2"/>
<path d="M181.81 464.48L185.15 462.68L185.15 466.29Z" fill="none" stroke="#36c4c0" stroke-width="0.6"/>
<text x="193" y="466.3" font-size="5.05" fill="#000" stroke="#000" stroke-width="0.1">HMS=40</text>
<path d="M175.6 471.5H191" stroke="#dc6edc" stroke-opacity="0.75" stroke-width="0.8"/>
<path d="M185.79 471.74L182.45 469.94L182.45 473.55Z" fill="none" stroke="#d548d5" stroke-width="0.6"/>
<text x="193" y="473.56" font-size="5.05" fill="#000" stroke="#000" stroke-width="0.1">HMS=80</text>
<path d="M175.6 479.5H191" stroke="#cdcd5a" stroke-opacity="0.75" stroke-width="1.2"/>
<circle cx="183.8" cy="479" r="1.8" fill="none" stroke="#bcbc3a" stroke-width="0.6"/>
<text x="193" y="480.82" font-size="5.05" fill="#000" stroke="#000" stroke-width="0.1">HMS=100</text>
<path d="M175.6 486.5H191" stroke="#a8a8a8" stroke-opacity="0.75" stroke-width="0.8"/>

<text x="193" y="488.08" font-size="5.05" fill="#000" stroke="#000" stroke-width="0.1">HMS=120</text>
<path d="M175.6 493.5H191" stroke="#8484ff" stroke-opacity="0.75" stroke-width="0.8"/>
<rect x="182" y="491.71" width="3.61" height="3.61" rx="0.6" fill="none" stroke="#6060ff" stroke-width="0.6"/>
<text x="193" y="495.34" font-size="5.05" fill="#000" stroke="#000" stroke-width="0.1">HMS=150</text>
<path d="M175.6 500.5H191" stroke="#4aa04a" stroke-opacity="0.75" stroke-width="0.8"/>
<circle cx="183.8" cy="500.78" r="1" fill="#2a8a2a"/>
<text x="193" y="502.6" font-size="5.05" fill="#000" stroke="#000" stroke-width="0.1">HMS=200</text>
<path d="M175.6 508.5H191" stroke="#ff8a8a" stroke-opacity="0.75" stroke-width="1.6" stroke-dasharray="9,5.5,3,5.5"/>

<text x="193" y="509.86" font-size="5.05" fill="#000" stroke="#000" stroke-width="0.1">HMS=500</text>
<text x="250.6" y="544.3" text-anchor="middle" font-family="Liberation Serif, serif" font-weight="bold" font-size="11.8" fill="#111">(i)</text>
</svg>
</body></html>
